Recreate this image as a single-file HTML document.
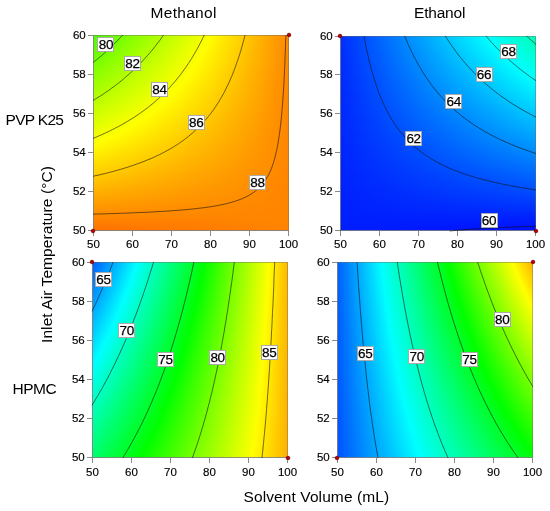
<!DOCTYPE html>
<html><head><meta charset="utf-8"><title>Contour plots</title>
<style>
html,body{margin:0;padding:0;background:#fff}
body{width:550px;height:511px;position:relative;overflow:hidden;font-family:"Liberation Sans",sans-serif;color:#000}
.p{position:absolute;overflow:hidden}
.p i{display:block;height:1px}
.t{position:absolute;font-size:11.5px;line-height:12px;color:#000;white-space:nowrap;-webkit-text-stroke:.15px #000}
.tx{width:30px;text-align:center}
.ty{width:30px;text-align:right}
.l{position:absolute;width:15px;height:13px;background:#fff;border:1px solid #aaa;font-size:13.5px;line-height:14px;text-align:center;color:#000;box-sizing:content-box;letter-spacing:-.3px;-webkit-text-stroke:.25px #000}
.h{position:absolute;white-space:nowrap;color:#000;font-size:15.5px;line-height:20px}
svg{position:absolute;left:0;top:0}
</style></head><body>
<div class="p" style="left:93px;top:35px;width:196px;height:196px"><i style="background:linear-gradient(90deg,#48ff00,#ff0 59.8%,#ff8700)"></i><i style="background:linear-gradient(90deg,#4aff00,#ff0 59.6%,#ff8700)"></i><i style="background:linear-gradient(90deg,#4cff00,#ff0 59.3%,#ff8700)"></i><i style="background:linear-gradient(90deg,#4dff00,#ff0 59.1%,#ff8700)"></i><i style="background:linear-gradient(90deg,#4fff00,#ff0 58.9%,#ff8700)"></i><i style="background:linear-gradient(90deg,#51ff00,#ff0 58.6%,#ff8700)"></i><i style="background:linear-gradient(90deg,#52ff00,#ff0 58.4%,#ff8700)"></i><i style="background:linear-gradient(90deg,#54ff00,#ff0 58.2%,#ff8700)"></i><i style="background:linear-gradient(90deg,#56ff00,#ff0 57.9%,#ff8700)"></i><i style="background:linear-gradient(90deg,#57ff00,#ff0 57.7%,#ff8700)"></i><i style="background:linear-gradient(90deg,#59ff00,#ff0 57.4%,#ff8700)"></i><i style="background:linear-gradient(90deg,#5bff00,#ff0 57.2%,#ff8700)"></i><i style="background:linear-gradient(90deg,#5cff00,#ff0 56.9%,#ff8700)"></i><i style="background:linear-gradient(90deg,#5eff00,#ff0 56.6%,#ff8700)"></i><i style="background:linear-gradient(90deg,#60ff00,#ff0 56.4%,#ff8700)"></i><i style="background:linear-gradient(90deg,#61ff00,#ff0 56.1%,#ff8700)"></i><i style="background:linear-gradient(90deg,#63ff00,#ff0 55.8%,#ff8700)"></i><i style="background:linear-gradient(90deg,#65ff00,#ff0 55.6%,#ff8700)"></i><i style="background:linear-gradient(90deg,#67ff00,#ff0 55.3%,#ff8700)"></i><i style="background:linear-gradient(90deg,#68ff00,#ff0 55.0%,#ff8700)"></i><i style="background:linear-gradient(90deg,#6aff00,#ff0 54.7%,#ff8700)"></i><i style="background:linear-gradient(90deg,#6cff00,#ff0 54.5%,#ff8700)"></i><i style="background:linear-gradient(90deg,#6dff00,#ff0 54.2%,#ff8700)"></i><i style="background:linear-gradient(90deg,#6fff00,#ff0 53.9%,#ff8700)"></i><i style="background:linear-gradient(90deg,#71ff00,#ff0 53.6%,#ff8700)"></i><i style="background:linear-gradient(90deg,#72ff00,#ff0 53.3%,#ff8700)"></i><i style="background:linear-gradient(90deg,#74ff00,#ff0 53.0%,#ff8700)"></i><i style="background:linear-gradient(90deg,#76ff00,#ff0 52.7%,#ff8700)"></i><i style="background:linear-gradient(90deg,#7f0,#ff0 52.4%,#ff8700)"></i><i style="background:linear-gradient(90deg,#79ff00,#ff0 52.0%,#ff8700)"></i><i style="background:linear-gradient(90deg,#7bff00,#ff0 51.7%,#ff8700)"></i><i style="background:linear-gradient(90deg,#7cff00,#ff0 51.4%,#ff8700)"></i><i style="background:linear-gradient(90deg,#7eff00,#ff0 51.1%,#ff8600)"></i><i style="background:linear-gradient(90deg,#80ff00,#ff0 50.7%,#ff8600)"></i><i style="background:linear-gradient(90deg,#81ff00,#ff0 50.4%,#ff8600)"></i><i style="background:linear-gradient(90deg,#83ff00,#ff0 50.1%,#ff8600)"></i><i style="background:linear-gradient(90deg,#85ff00,#ff0 49.7%,#ff8600)"></i><i style="background:linear-gradient(90deg,#87ff00,#ff0 49.4%,#ff8600)"></i><i style="background:linear-gradient(90deg,#8f0,#ff0 49.0%,#ff8600)"></i><i style="background:linear-gradient(90deg,#8aff00,#ff0 48.6%,#ff8600)"></i><i style="background:linear-gradient(90deg,#8cff00,#ff0 48.3%,#ff8600)"></i><i style="background:linear-gradient(90deg,#8dff00,#ff0 47.9%,#ff8600)"></i><i style="background:linear-gradient(90deg,#8fff00,#ff0 47.5%,#ff8600)"></i><i style="background:linear-gradient(90deg,#91ff00,#ff0 47.1%,#ff8600)"></i><i style="background:linear-gradient(90deg,#92ff00,#ff0 46.8%,#ff8600)"></i><i style="background:linear-gradient(90deg,#94ff00,#ff0 46.4%,#ff8600)"></i><i style="background:linear-gradient(90deg,#96ff00,#ff0 46.0%,#ff8600)"></i><i style="background:linear-gradient(90deg,#97ff00,#ff0 45.6%,#ff8600)"></i><i style="background:linear-gradient(90deg,#9f0,#ff0 45.2%,#ff8600)"></i><i style="background:linear-gradient(90deg,#9bff00,#ff0 44.7%,#ff8600)"></i><i style="background:linear-gradient(90deg,#9cff00,#ff0 44.3%,#ff8600)"></i><i style="background:linear-gradient(90deg,#9eff00,#ff0 43.9%,#ff8600)"></i><i style="background:linear-gradient(90deg,#a0ff00,#ff0 43.5%,#ff8600)"></i><i style="background:linear-gradient(90deg,#a1ff00,#ff0 43.0%,#ff8600)"></i><i style="background:linear-gradient(90deg,#a3ff00,#ff0 42.6%,#ff8600)"></i><i style="background:linear-gradient(90deg,#a5ff00,#ff0 42.1%,#ff8600)"></i><i style="background:linear-gradient(90deg,#a7ff00,#ff0 41.6%,#ff8600)"></i><i style="background:linear-gradient(90deg,#a8ff00,#ff0 41.2%,#ff8600)"></i><i style="background:linear-gradient(90deg,#af0,#ff0 40.7%,#ff8600)"></i><i style="background:linear-gradient(90deg,#acff00,#ff0 40.2%,#ff8600)"></i><i style="background:linear-gradient(90deg,#adff00,#ff0 39.7%,#ff8600)"></i><i style="background:linear-gradient(90deg,#afff00,#ff0 39.2%,#ff8600)"></i><i style="background:linear-gradient(90deg,#b1ff00,#ff0 38.7%,#ff8600)"></i><i style="background:linear-gradient(90deg,#b2ff00,#ff0 38.2%,#ff8600)"></i><i style="background:linear-gradient(90deg,#b4ff00,#ff0 37.7%,#ff8600)"></i><i style="background:linear-gradient(90deg,#b6ff00,#ff0 37.1%,#ff8600)"></i><i style="background:linear-gradient(90deg,#b7ff00,#ff0 36.6%,#ff8600)"></i><i style="background:linear-gradient(90deg,#b9ff00,#ff0 36.0%,#ff8600)"></i><i style="background:linear-gradient(90deg,#bf0,#ff0 35.5%,#ff8600)"></i><i style="background:linear-gradient(90deg,#bcff00,#ff0 34.9%,#ff8600)"></i><i style="background:linear-gradient(90deg,#beff00,#ff0 34.3%,#ff8600)"></i><i style="background:linear-gradient(90deg,#c0ff00,#ff0 33.7%,#ff8600)"></i><i style="background:linear-gradient(90deg,#c1ff00,#ff0 33.1%,#ff8600)"></i><i style="background:linear-gradient(90deg,#c3ff00,#ff0 32.5%,#ff8600)"></i><i style="background:linear-gradient(90deg,#c5ff00,#ff0 31.9%,#ff8600)"></i><i style="background:linear-gradient(90deg,#c6ff00,#ff0 31.2%,#ff8600)"></i><i style="background:linear-gradient(90deg,#c8ff00,#ff0 30.6%,#ff8600)"></i><i style="background:linear-gradient(90deg,#caff00,#ff0 29.9%,#ff8600)"></i><i style="background:linear-gradient(90deg,#cf0,#ff0 29.3%,#ff8600)"></i><i style="background:linear-gradient(90deg,#cdff00,#ff0 28.6%,#ff8600)"></i><i style="background:linear-gradient(90deg,#cfff00,#ff0 27.9%,#ff8600)"></i><i style="background:linear-gradient(90deg,#d1ff00,#ff0 27.2%,#ff8600)"></i><i style="background:linear-gradient(90deg,#d2ff00,#ff0 26.4%,#ff8600)"></i><i style="background:linear-gradient(90deg,#d4ff00,#ff0 25.7%,#ff8600)"></i><i style="background:linear-gradient(90deg,#d6ff00,#ff0 24.9%,#ff8500)"></i><i style="background:linear-gradient(90deg,#d7ff00,#ff0 24.2%,#ff8500)"></i><i style="background:linear-gradient(90deg,#d9ff00,#ff0 23.4%,#ff8500)"></i><i style="background:linear-gradient(90deg,#dbff00,#ff0 22.6%,#ff8500)"></i><i style="background:linear-gradient(90deg,#dcff00,#ff0 21.7%,#ff8500)"></i><i style="background:linear-gradient(90deg,#deff00,#ff0 20.9%,#ff8500)"></i><i style="background:linear-gradient(90deg,#e0ff00,#ff0 20.1%,#ff8500)"></i><i style="background:linear-gradient(90deg,#e1ff00,#ff0 19.2%,#ff8500)"></i><i style="background:linear-gradient(90deg,#e3ff00,#ff0 18.3%,#ff8500)"></i><i style="background:linear-gradient(90deg,#e5ff00,#ff0 17.4%,#ff8500)"></i><i style="background:linear-gradient(90deg,#e6ff00,#ff0 16.4%,#ff8500)"></i><i style="background:linear-gradient(90deg,#e8ff00,#ff0 15.5%,#ff8500)"></i><i style="background:linear-gradient(90deg,#eaff00,#ff0 14.5%,#ff8500)"></i><i style="background:linear-gradient(90deg,#ecff00,#ff0 13.5%,#ff8500)"></i><i style="background:linear-gradient(90deg,#edff00,#ff0 12.5%,#ff8500)"></i><i style="background:linear-gradient(90deg,#efff00,#ff0 11.4%,#ff8500)"></i><i style="background:linear-gradient(90deg,#f1ff00,#ff0 10.4%,#ff8500)"></i><i style="background:linear-gradient(90deg,#f2ff00,#ff0 9.3%,#ff8500)"></i><i style="background:linear-gradient(90deg,#f4ff00,#ff0 8.1%,#ff8500)"></i><i style="background:linear-gradient(90deg,#f6ff00,#ff0 7.0%,#ff8500)"></i><i style="background:linear-gradient(90deg,#f7ff00,#ff0 5.8%,#ff8500)"></i><i style="background:linear-gradient(90deg,#f9ff00,#ff0 4.6%,#ff8500)"></i><i style="background:linear-gradient(90deg,#fbff00,#ff0 3.4%,#ff8500)"></i><i style="background:linear-gradient(90deg,#fcff00,#ff0 2.1%,#ff8500)"></i><i style="background:linear-gradient(90deg,#feff00,#ff0 0.8%,#ff8500)"></i><i style="background:linear-gradient(90deg,#fffe00,#ff8500)"></i><i style="background:linear-gradient(90deg,#fffd00,#ff8500)"></i><i style="background:linear-gradient(90deg,#fffb00,#ff8500)"></i><i style="background:linear-gradient(90deg,#fff900,#ff8500)"></i><i style="background:linear-gradient(90deg,#fff800,#ff8500)"></i><i style="background:linear-gradient(90deg,#fff600,#ff8500)"></i><i style="background:linear-gradient(90deg,#fff400,#ff8500)"></i><i style="background:linear-gradient(90deg,#fff300,#ff8500)"></i><i style="background:linear-gradient(90deg,#fff100,#ff8500)"></i><i style="background:linear-gradient(90deg,#fff000,#ff8500)"></i><i style="background:linear-gradient(90deg,#fe0,#ff8500)"></i><i style="background:linear-gradient(90deg,#ffec00,#ff8500)"></i><i style="background:linear-gradient(90deg,#ffeb00,#ff8500)"></i><i style="background:linear-gradient(90deg,#ffe900,#ff8500)"></i><i style="background:linear-gradient(90deg,#ffe700,#ff8500)"></i><i style="background:linear-gradient(90deg,#ffe600,#ff8500)"></i><i style="background:linear-gradient(90deg,#ffe400,#ff8500)"></i><i style="background:linear-gradient(90deg,#ffe200,#ff8500)"></i><i style="background:linear-gradient(90deg,#ffe100,#ff8500)"></i><i style="background:linear-gradient(90deg,#ffdf00,#ff8500)"></i><i style="background:linear-gradient(90deg,#fd0,#ff8500)"></i><i style="background:linear-gradient(90deg,#ffdc00,#ff8500)"></i><i style="background:linear-gradient(90deg,#ffda00,#ff8500)"></i><i style="background:linear-gradient(90deg,#ffd900,#ff8500)"></i><i style="background:linear-gradient(90deg,#ffd700,#ff8500)"></i><i style="background:linear-gradient(90deg,#ffd500,#ff8500)"></i><i style="background:linear-gradient(90deg,#ffd400,#ff8400)"></i><i style="background:linear-gradient(90deg,#ffd200,#ff8400)"></i><i style="background:linear-gradient(90deg,#ffd000,#ff8400)"></i><i style="background:linear-gradient(90deg,#ffcf00,#ff8400)"></i><i style="background:linear-gradient(90deg,#ffcd00,#ff8400)"></i><i style="background:linear-gradient(90deg,#ffcb00,#ff8400)"></i><i style="background:linear-gradient(90deg,#ffca00,#ff8400)"></i><i style="background:linear-gradient(90deg,#ffc800,#ff8400)"></i><i style="background:linear-gradient(90deg,#ffc600,#ff8400)"></i><i style="background:linear-gradient(90deg,#ffc500,#ff8400)"></i><i style="background:linear-gradient(90deg,#ffc300,#ff8400)"></i><i style="background:linear-gradient(90deg,#ffc200,#ff8400)"></i><i style="background:linear-gradient(90deg,#ffc000,#ff8400)"></i><i style="background:linear-gradient(90deg,#ffbe00,#ff8400)"></i><i style="background:linear-gradient(90deg,#ffbd00,#ff8400)"></i><i style="background:linear-gradient(90deg,#fb0,#ff8400)"></i><i style="background:linear-gradient(90deg,#ffb900,#ff8400)"></i><i style="background:linear-gradient(90deg,#ffb800,#ff8400)"></i><i style="background:linear-gradient(90deg,#ffb600,#ff8400)"></i><i style="background:linear-gradient(90deg,#ffb400,#ff8400)"></i><i style="background:linear-gradient(90deg,#ffb300,#ff8400)"></i><i style="background:linear-gradient(90deg,#ffb100,#ff8400)"></i><i style="background:linear-gradient(90deg,#ffaf00,#ff8400)"></i><i style="background:linear-gradient(90deg,#ffae00,#ff8400)"></i><i style="background:linear-gradient(90deg,#ffac00,#ff8400)"></i><i style="background:linear-gradient(90deg,#ffab00,#ff8400)"></i><i style="background:linear-gradient(90deg,#ffa900,#ff8400)"></i><i style="background:linear-gradient(90deg,#ffa700,#ff8400)"></i><i style="background:linear-gradient(90deg,#ffa600,#ff8400)"></i><i style="background:linear-gradient(90deg,#ffa400,#ff8400)"></i><i style="background:linear-gradient(90deg,#ffa200,#ff8400)"></i><i style="background:linear-gradient(90deg,#ffa100,#ff8400)"></i><i style="background:linear-gradient(90deg,#ff9f00,#ff8400)"></i><i style="background:linear-gradient(90deg,#ff9d00,#ff8400)"></i><i style="background:linear-gradient(90deg,#ff9c00,#ff8400)"></i><i style="background:linear-gradient(90deg,#ff9a00,#ff8400)"></i><i style="background:linear-gradient(90deg,#ff9800,#ff8400)"></i><i style="background:linear-gradient(90deg,#ff9700,#ff8400)"></i><i style="background:linear-gradient(90deg,#ff9500,#ff8400)"></i><i style="background:linear-gradient(90deg,#ff9400,#ff8400)"></i><i style="background:linear-gradient(90deg,#ff9200,#ff8400)"></i><i style="background:linear-gradient(90deg,#ff9000,#ff8400)"></i><i style="background:linear-gradient(90deg,#ff8f00,#ff8400)"></i><i style="background:linear-gradient(90deg,#ff8d00,#ff8400)"></i><i style="background:linear-gradient(90deg,#ff8b00,#ff8400)"></i><i style="background:linear-gradient(90deg,#ff8a00,#ff8400)"></i><i style="background:linear-gradient(90deg,#f80,#ff8400)"></i><i style="background:linear-gradient(90deg,#ff8600,#ff8400)"></i><i style="background:linear-gradient(90deg,#ff8500,#ff8400)"></i><i style="background:linear-gradient(90deg,#ff8300,#ff8400)"></i><i style="background:linear-gradient(90deg,#ff8200,#ff8400)"></i><i style="background:linear-gradient(90deg,#ff8000,#ff8400)"></i><i style="background:linear-gradient(90deg,#ff7e00,#ff8300)"></i><i style="background:linear-gradient(90deg,#ff7d00,#ff8300)"></i><i style="background:linear-gradient(90deg,#ff7b00,#ff8300)"></i><i style="background:linear-gradient(90deg,#ff7900,#ff8300)"></i><i style="background:linear-gradient(90deg,#ff7800,#ff8300)"></i><i style="background:linear-gradient(90deg,#ff7600,#ff8300)"></i><i style="background:linear-gradient(90deg,#ff7400,#ff8300)"></i><i style="background:linear-gradient(90deg,#ff7300,#ff8300)"></i><i style="background:linear-gradient(90deg,#ff7100,#ff8300)"></i></div>
<div class="p" style="left:340px;top:36px;width:196px;height:195px"><i style="background:linear-gradient(90deg,#002dff,#0ff 74.7%,#00ffb4)"></i><i style="background:linear-gradient(90deg,#002cff,#0ff 75.1%,#00ffb6)"></i><i style="background:linear-gradient(90deg,#002cff,#0ff 75.6%,#00ffb8)"></i><i style="background:linear-gradient(90deg,#002cff,#0ff 76.0%,#00ffb9)"></i><i style="background:linear-gradient(90deg,#002cff,#0ff 76.5%,#0fb)"></i><i style="background:linear-gradient(90deg,#002cff,#0ff 76.9%,#00ffbd)"></i><i style="background:linear-gradient(90deg,#002cff,#0ff 77.4%,#00ffbe)"></i><i style="background:linear-gradient(90deg,#002cff,#0ff 77.9%,#00ffc0)"></i><i style="background:linear-gradient(90deg,#002cff,#0ff 78.3%,#00ffc2)"></i><i style="background:linear-gradient(90deg,#002cff,#0ff 78.8%,#00ffc3)"></i><i style="background:linear-gradient(90deg,#002cff,#0ff 79.3%,#00ffc5)"></i><i style="background:linear-gradient(90deg,#002cff,#0ff 79.8%,#00ffc7)"></i><i style="background:linear-gradient(90deg,#002cff,#0ff 80.3%,#00ffc9)"></i><i style="background:linear-gradient(90deg,#002cff,#0ff 80.8%,#00ffca)"></i><i style="background:linear-gradient(90deg,#002bff,#0ff 81.3%,#0fc)"></i><i style="background:linear-gradient(90deg,#002bff,#0ff 81.8%,#00ffce)"></i><i style="background:linear-gradient(90deg,#002bff,#0ff 82.3%,#00ffcf)"></i><i style="background:linear-gradient(90deg,#002bff,#0ff 82.8%,#00ffd1)"></i><i style="background:linear-gradient(90deg,#002bff,#0ff 83.4%,#00ffd3)"></i><i style="background:linear-gradient(90deg,#002bff,#0ff 83.9%,#00ffd4)"></i><i style="background:linear-gradient(90deg,#002bff,#0ff 84.4%,#00ffd6)"></i><i style="background:linear-gradient(90deg,#002bff,#0ff 85.0%,#00ffd8)"></i><i style="background:linear-gradient(90deg,#002bff,#0ff 85.5%,#00ffd9)"></i><i style="background:linear-gradient(90deg,#002bff,#0ff 86.1%,#00ffdb)"></i><i style="background:linear-gradient(90deg,#002bff,#0ff 86.7%,#0fd)"></i><i style="background:linear-gradient(90deg,#002bff,#0ff 87.3%,#00ffde)"></i><i style="background:linear-gradient(90deg,#002bff,#0ff 87.8%,#00ffe0)"></i><i style="background:linear-gradient(90deg,#002bff,#0ff 88.4%,#00ffe2)"></i><i style="background:linear-gradient(90deg,#002aff,#0ff 89.0%,#00ffe4)"></i><i style="background:linear-gradient(90deg,#002aff,#0ff 89.6%,#00ffe5)"></i><i style="background:linear-gradient(90deg,#002aff,#0ff 90.3%,#00ffe7)"></i><i style="background:linear-gradient(90deg,#002aff,#0ff 90.9%,#00ffe9)"></i><i style="background:linear-gradient(90deg,#002aff,#0ff 91.5%,#00ffea)"></i><i style="background:linear-gradient(90deg,#002aff,#0ff 92.2%,#00ffec)"></i><i style="background:linear-gradient(90deg,#002aff,#0ff 92.8%,#0fe)"></i><i style="background:linear-gradient(90deg,#002aff,#0ff 93.5%,#00ffef)"></i><i style="background:linear-gradient(90deg,#002aff,#0ff 94.1%,#00fff1)"></i><i style="background:linear-gradient(90deg,#002aff,#0ff 94.8%,#00fff3)"></i><i style="background:linear-gradient(90deg,#002aff,#0ff 95.5%,#00fff4)"></i><i style="background:linear-gradient(90deg,#002aff,#0ff 96.2%,#00fff6)"></i><i style="background:linear-gradient(90deg,#002aff,#0ff 96.9%,#00fff8)"></i><i style="background:linear-gradient(90deg,#0029ff,#0ff 97.6%,#00fffa)"></i><i style="background:linear-gradient(90deg,#0029ff,#0ff 98.3%,#00fffb)"></i><i style="background:linear-gradient(90deg,#0029ff,#0ff 99.1%,#00fffd)"></i><i style="background:linear-gradient(90deg,#0029ff,#0ff 99.8%,#0ff)"></i><i style="background:linear-gradient(90deg,#0029ff,#00feff)"></i><i style="background:linear-gradient(90deg,#0029ff,#00fcff)"></i><i style="background:linear-gradient(90deg,#0029ff,#00fbff)"></i><i style="background:linear-gradient(90deg,#0029ff,#00f9ff)"></i><i style="background:linear-gradient(90deg,#0029ff,#00f7ff)"></i><i style="background:linear-gradient(90deg,#0029ff,#00f6ff)"></i><i style="background:linear-gradient(90deg,#0029ff,#00f4ff)"></i><i style="background:linear-gradient(90deg,#0029ff,#00f3ff)"></i><i style="background:linear-gradient(90deg,#0029ff,#00f1ff)"></i><i style="background:linear-gradient(90deg,#0029ff,#00efff)"></i><i style="background:linear-gradient(90deg,#0028ff,#0ef)"></i><i style="background:linear-gradient(90deg,#0028ff,#00ecff)"></i><i style="background:linear-gradient(90deg,#0028ff,#00eaff)"></i><i style="background:linear-gradient(90deg,#0028ff,#00e9ff)"></i><i style="background:linear-gradient(90deg,#0028ff,#00e7ff)"></i><i style="background:linear-gradient(90deg,#0028ff,#00e6ff)"></i><i style="background:linear-gradient(90deg,#0028ff,#00e4ff)"></i><i style="background:linear-gradient(90deg,#0028ff,#00e2ff)"></i><i style="background:linear-gradient(90deg,#0028ff,#00e1ff)"></i><i style="background:linear-gradient(90deg,#0028ff,#00dfff)"></i><i style="background:linear-gradient(90deg,#0028ff,#00deff)"></i><i style="background:linear-gradient(90deg,#0028ff,#00dcff)"></i><i style="background:linear-gradient(90deg,#0028ff,#00daff)"></i><i style="background:linear-gradient(90deg,#0028ff,#00d9ff)"></i><i style="background:linear-gradient(90deg,#0027ff,#00d7ff)"></i><i style="background:linear-gradient(90deg,#0027ff,#00d6ff)"></i><i style="background:linear-gradient(90deg,#0027ff,#00d4ff)"></i><i style="background:linear-gradient(90deg,#0027ff,#00d2ff)"></i><i style="background:linear-gradient(90deg,#0027ff,#00d1ff)"></i><i style="background:linear-gradient(90deg,#0027ff,#00cfff)"></i><i style="background:linear-gradient(90deg,#0027ff,#00cdff)"></i><i style="background:linear-gradient(90deg,#0027ff,#0cf)"></i><i style="background:linear-gradient(90deg,#0027ff,#00caff)"></i><i style="background:linear-gradient(90deg,#0027ff,#00c9ff)"></i><i style="background:linear-gradient(90deg,#0027ff,#00c7ff)"></i><i style="background:linear-gradient(90deg,#0027ff,#00c5ff)"></i><i style="background:linear-gradient(90deg,#0027ff,#00c4ff)"></i><i style="background:linear-gradient(90deg,#0026ff,#00c2ff)"></i><i style="background:linear-gradient(90deg,#0026ff,#00c1ff)"></i><i style="background:linear-gradient(90deg,#0026ff,#00bfff)"></i><i style="background:linear-gradient(90deg,#0026ff,#00bdff)"></i><i style="background:linear-gradient(90deg,#0026ff,#00bcff)"></i><i style="background:linear-gradient(90deg,#0026ff,#00baff)"></i><i style="background:linear-gradient(90deg,#0026ff,#00b9ff)"></i><i style="background:linear-gradient(90deg,#0026ff,#00b7ff)"></i><i style="background:linear-gradient(90deg,#0026ff,#00b5ff)"></i><i style="background:linear-gradient(90deg,#0026ff,#00b4ff)"></i><i style="background:linear-gradient(90deg,#0026ff,#00b2ff)"></i><i style="background:linear-gradient(90deg,#0026ff,#00b0ff)"></i><i style="background:linear-gradient(90deg,#0026ff,#00afff)"></i><i style="background:linear-gradient(90deg,#0026ff,#00adff)"></i><i style="background:linear-gradient(90deg,#0025ff,#00acff)"></i><i style="background:linear-gradient(90deg,#0025ff,#0af)"></i><i style="background:linear-gradient(90deg,#0025ff,#00a8ff)"></i><i style="background:linear-gradient(90deg,#0025ff,#00a7ff)"></i><i style="background:linear-gradient(90deg,#0025ff,#00a5ff)"></i><i style="background:linear-gradient(90deg,#0025ff,#00a4ff)"></i><i style="background:linear-gradient(90deg,#0025ff,#00a2ff)"></i><i style="background:linear-gradient(90deg,#0025ff,#00a0ff)"></i><i style="background:linear-gradient(90deg,#0025ff,#009fff)"></i><i style="background:linear-gradient(90deg,#0025ff,#009dff)"></i><i style="background:linear-gradient(90deg,#0025ff,#009bff)"></i><i style="background:linear-gradient(90deg,#0025ff,#009aff)"></i><i style="background:linear-gradient(90deg,#0025ff,#0098ff)"></i><i style="background:linear-gradient(90deg,#0024ff,#0097ff)"></i><i style="background:linear-gradient(90deg,#0024ff,#0095ff)"></i><i style="background:linear-gradient(90deg,#0024ff,#0093ff)"></i><i style="background:linear-gradient(90deg,#0024ff,#0092ff)"></i><i style="background:linear-gradient(90deg,#0024ff,#0090ff)"></i><i style="background:linear-gradient(90deg,#0024ff,#008fff)"></i><i style="background:linear-gradient(90deg,#0024ff,#008dff)"></i><i style="background:linear-gradient(90deg,#0024ff,#008bff)"></i><i style="background:linear-gradient(90deg,#0024ff,#008aff)"></i><i style="background:linear-gradient(90deg,#0024ff,#08f)"></i><i style="background:linear-gradient(90deg,#0024ff,#0087ff)"></i><i style="background:linear-gradient(90deg,#0024ff,#0085ff)"></i><i style="background:linear-gradient(90deg,#0024ff,#0083ff)"></i><i style="background:linear-gradient(90deg,#0024ff,#0082ff)"></i><i style="background:linear-gradient(90deg,#0023ff,#0080ff)"></i><i style="background:linear-gradient(90deg,#0023ff,#007eff)"></i><i style="background:linear-gradient(90deg,#0023ff,#007dff)"></i><i style="background:linear-gradient(90deg,#0023ff,#007bff)"></i><i style="background:linear-gradient(90deg,#0023ff,#007aff)"></i><i style="background:linear-gradient(90deg,#0023ff,#0078ff)"></i><i style="background:linear-gradient(90deg,#0023ff,#0076ff)"></i><i style="background:linear-gradient(90deg,#0023ff,#0075ff)"></i><i style="background:linear-gradient(90deg,#0023ff,#0073ff)"></i><i style="background:linear-gradient(90deg,#0023ff,#0072ff)"></i><i style="background:linear-gradient(90deg,#0023ff,#0070ff)"></i><i style="background:linear-gradient(90deg,#0023ff,#006eff)"></i><i style="background:linear-gradient(90deg,#0023ff,#006dff)"></i><i style="background:linear-gradient(90deg,#02f,#006bff)"></i><i style="background:linear-gradient(90deg,#02f,#006aff)"></i><i style="background:linear-gradient(90deg,#02f,#0068ff)"></i><i style="background:linear-gradient(90deg,#02f,#06f)"></i><i style="background:linear-gradient(90deg,#02f,#0065ff)"></i><i style="background:linear-gradient(90deg,#02f,#0063ff)"></i><i style="background:linear-gradient(90deg,#02f,#0061ff)"></i><i style="background:linear-gradient(90deg,#02f,#0060ff)"></i><i style="background:linear-gradient(90deg,#02f,#005eff)"></i><i style="background:linear-gradient(90deg,#02f,#005dff)"></i><i style="background:linear-gradient(90deg,#02f,#005bff)"></i><i style="background:linear-gradient(90deg,#02f,#0059ff)"></i><i style="background:linear-gradient(90deg,#02f,#0058ff)"></i><i style="background:linear-gradient(90deg,#02f,#0056ff)"></i><i style="background:linear-gradient(90deg,#0021ff,#05f)"></i><i style="background:linear-gradient(90deg,#0021ff,#0053ff)"></i><i style="background:linear-gradient(90deg,#0021ff,#0051ff)"></i><i style="background:linear-gradient(90deg,#0021ff,#0050ff)"></i><i style="background:linear-gradient(90deg,#0021ff,#004eff)"></i><i style="background:linear-gradient(90deg,#0021ff,#004dff)"></i><i style="background:linear-gradient(90deg,#0021ff,#004bff)"></i><i style="background:linear-gradient(90deg,#0021ff,#0049ff)"></i><i style="background:linear-gradient(90deg,#0021ff,#0048ff)"></i><i style="background:linear-gradient(90deg,#0021ff,#0046ff)"></i><i style="background:linear-gradient(90deg,#0021ff,#04f)"></i><i style="background:linear-gradient(90deg,#0021ff,#0043ff)"></i><i style="background:linear-gradient(90deg,#0021ff,#0041ff)"></i><i style="background:linear-gradient(90deg,#0021ff,#0040ff)"></i><i style="background:linear-gradient(90deg,#0020ff,#003eff)"></i><i style="background:linear-gradient(90deg,#0020ff,#003cff)"></i><i style="background:linear-gradient(90deg,#0020ff,#003bff)"></i><i style="background:linear-gradient(90deg,#0020ff,#0039ff)"></i><i style="background:linear-gradient(90deg,#0020ff,#0038ff)"></i><i style="background:linear-gradient(90deg,#0020ff,#0036ff)"></i><i style="background:linear-gradient(90deg,#0020ff,#0034ff)"></i><i style="background:linear-gradient(90deg,#0020ff,#03f)"></i><i style="background:linear-gradient(90deg,#0020ff,#0031ff)"></i><i style="background:linear-gradient(90deg,#0020ff,#0030ff)"></i><i style="background:linear-gradient(90deg,#0020ff,#002eff)"></i><i style="background:linear-gradient(90deg,#0020ff,#002cff)"></i><i style="background:linear-gradient(90deg,#0020ff,#002bff)"></i><i style="background:linear-gradient(90deg,#001fff,#0029ff)"></i><i style="background:linear-gradient(90deg,#001fff,#0027ff)"></i><i style="background:linear-gradient(90deg,#001fff,#0026ff)"></i><i style="background:linear-gradient(90deg,#001fff,#0024ff)"></i><i style="background:linear-gradient(90deg,#001fff,#0023ff)"></i><i style="background:linear-gradient(90deg,#001fff,#0021ff)"></i><i style="background:linear-gradient(90deg,#001fff,#001fff)"></i><i style="background:linear-gradient(90deg,#001fff,#001eff)"></i><i style="background:linear-gradient(90deg,#001fff,#001cff)"></i><i style="background:linear-gradient(90deg,#001fff,#001bff)"></i><i style="background:linear-gradient(90deg,#001fff,#0019ff)"></i><i style="background:linear-gradient(90deg,#001fff,#0017ff)"></i><i style="background:linear-gradient(90deg,#001fff,#0016ff)"></i><i style="background:linear-gradient(90deg,#001fff,#0014ff)"></i><i style="background:linear-gradient(90deg,#001eff,#0013ff)"></i><i style="background:linear-gradient(90deg,#001eff,#01f)"></i><i style="background:linear-gradient(90deg,#001eff,#000fff)"></i><i style="background:linear-gradient(90deg,#001eff,#000eff)"></i></div>
<div class="p" style="left:92px;top:262px;width:196px;height:196px"><i style="background:linear-gradient(90deg,#005bff,#0ff 23.1%,#0f0 57.3%,#ff0 90.3%,#ffb600)"></i><i style="background:linear-gradient(90deg,#005dff,#0ff 22.9%,#0f0 57.2%,#ff0 90.3%,#ffb600)"></i><i style="background:linear-gradient(90deg,#005eff,#0ff 22.7%,#0f0 57.1%,#ff0 90.3%,#ffb600)"></i><i style="background:linear-gradient(90deg,#0060ff,#0ff 22.6%,#0f0 57.0%,#ff0 90.2%,#ffb600)"></i><i style="background:linear-gradient(90deg,#0061ff,#0ff 22.4%,#0f0 56.9%,#ff0 90.2%,#ffb600)"></i><i style="background:linear-gradient(90deg,#0063ff,#0ff 22.2%,#0f0 56.8%,#ff0 90.2%,#ffb600)"></i><i style="background:linear-gradient(90deg,#0064ff,#0ff 22.0%,#0f0 56.7%,#ff0 90.1%,#ffb600)"></i><i style="background:linear-gradient(90deg,#06f,#0ff 21.9%,#0f0 56.6%,#ff0 90.1%,#ffb600)"></i><i style="background:linear-gradient(90deg,#0068ff,#0ff 21.7%,#0f0 56.5%,#ff0 90.1%,#ffb600)"></i><i style="background:linear-gradient(90deg,#0069ff,#0ff 21.5%,#0f0 56.4%,#ff0 90.1%,#ffb600)"></i><i style="background:linear-gradient(90deg,#006bff,#0ff 21.3%,#0f0 56.3%,#ff0 90.0%,#ffb600)"></i><i style="background:linear-gradient(90deg,#006cff,#0ff 21.2%,#0f0 56.2%,#ff0 90.0%,#ffb600)"></i><i style="background:linear-gradient(90deg,#006eff,#0ff 21.0%,#0f0 56.1%,#ff0 90.0%,#ffb500)"></i><i style="background:linear-gradient(90deg,#006fff,#0ff 20.8%,#0f0 56.0%,#ff0 90.0%,#ffb500)"></i><i style="background:linear-gradient(90deg,#0071ff,#0ff 20.6%,#0f0 55.9%,#ff0 89.9%,#ffb500)"></i><i style="background:linear-gradient(90deg,#0072ff,#0ff 20.4%,#0f0 55.8%,#ff0 89.9%,#ffb500)"></i><i style="background:linear-gradient(90deg,#0074ff,#0ff 20.3%,#0f0 55.7%,#ff0 89.9%,#ffb500)"></i><i style="background:linear-gradient(90deg,#0076ff,#0ff 20.1%,#0f0 55.6%,#ff0 89.9%,#ffb500)"></i><i style="background:linear-gradient(90deg,#07f,#0ff 19.9%,#0f0 55.5%,#ff0 89.8%,#ffb500)"></i><i style="background:linear-gradient(90deg,#0079ff,#0ff 19.7%,#0f0 55.4%,#ff0 89.8%,#ffb500)"></i><i style="background:linear-gradient(90deg,#007aff,#0ff 19.5%,#0f0 55.3%,#ff0 89.8%,#ffb500)"></i><i style="background:linear-gradient(90deg,#007cff,#0ff 19.3%,#0f0 55.2%,#ff0 89.7%,#ffb500)"></i><i style="background:linear-gradient(90deg,#007dff,#0ff 19.2%,#0f0 55.1%,#ff0 89.7%,#ffb500)"></i><i style="background:linear-gradient(90deg,#007fff,#0ff 19.0%,#0f0 55.0%,#ff0 89.7%,#ffb500)"></i><i style="background:linear-gradient(90deg,#0080ff,#0ff 18.8%,#0f0 54.9%,#ff0 89.7%,#ffb500)"></i><i style="background:linear-gradient(90deg,#0082ff,#0ff 18.6%,#0f0 54.8%,#ff0 89.6%,#ffb500)"></i><i style="background:linear-gradient(90deg,#0084ff,#0ff 18.4%,#0f0 54.7%,#ff0 89.6%,#ffb500)"></i><i style="background:linear-gradient(90deg,#0085ff,#0ff 18.2%,#0f0 54.5%,#ff0 89.6%,#ffb500)"></i><i style="background:linear-gradient(90deg,#0087ff,#0ff 18.0%,#0f0 54.4%,#ff0 89.5%,#ffb500)"></i><i style="background:linear-gradient(90deg,#08f,#0ff 17.8%,#0f0 54.3%,#ff0 89.5%,#ffb500)"></i><i style="background:linear-gradient(90deg,#008aff,#0ff 17.6%,#0f0 54.2%,#ff0 89.5%,#ffb500)"></i><i style="background:linear-gradient(90deg,#008bff,#0ff 17.4%,#0f0 54.1%,#ff0 89.5%,#ffb500)"></i><i style="background:linear-gradient(90deg,#008dff,#0ff 17.2%,#0f0 54.0%,#ff0 89.4%,#ffb500)"></i><i style="background:linear-gradient(90deg,#008eff,#0ff 17.0%,#0f0 53.9%,#ff0 89.4%,#ffb500)"></i><i style="background:linear-gradient(90deg,#0090ff,#0ff 16.8%,#0f0 53.8%,#ff0 89.4%,#ffb500)"></i><i style="background:linear-gradient(90deg,#0092ff,#0ff 16.6%,#0f0 53.7%,#ff0 89.3%,#ffb500)"></i><i style="background:linear-gradient(90deg,#0093ff,#0ff 16.4%,#0f0 53.6%,#ff0 89.3%,#ffb500)"></i><i style="background:linear-gradient(90deg,#0095ff,#0ff 16.2%,#0f0 53.4%,#ff0 89.3%,#ffb500)"></i><i style="background:linear-gradient(90deg,#0096ff,#0ff 16.0%,#0f0 53.3%,#ff0 89.3%,#ffb500)"></i><i style="background:linear-gradient(90deg,#0098ff,#0ff 15.8%,#0f0 53.2%,#ff0 89.2%,#ffb500)"></i><i style="background:linear-gradient(90deg,#09f,#0ff 15.6%,#0f0 53.1%,#ff0 89.2%,#ffb500)"></i><i style="background:linear-gradient(90deg,#009bff,#0ff 15.4%,#0f0 53.0%,#ff0 89.2%,#ffb400)"></i><i style="background:linear-gradient(90deg,#009dff,#0ff 15.2%,#0f0 52.9%,#ff0 89.1%,#ffb400)"></i><i style="background:linear-gradient(90deg,#009eff,#0ff 15.0%,#0f0 52.7%,#ff0 89.1%,#ffb400)"></i><i style="background:linear-gradient(90deg,#00a0ff,#0ff 14.8%,#0f0 52.6%,#ff0 89.1%,#ffb400)"></i><i style="background:linear-gradient(90deg,#00a1ff,#0ff 14.6%,#0f0 52.5%,#ff0 89.0%,#ffb400)"></i><i style="background:linear-gradient(90deg,#00a3ff,#0ff 14.4%,#0f0 52.4%,#ff0 89.0%,#ffb400)"></i><i style="background:linear-gradient(90deg,#00a4ff,#0ff 14.2%,#0f0 52.3%,#ff0 89.0%,#ffb400)"></i><i style="background:linear-gradient(90deg,#00a6ff,#0ff 14.0%,#0f0 52.2%,#ff0 88.9%,#ffb400)"></i><i style="background:linear-gradient(90deg,#00a7ff,#0ff 13.8%,#0f0 52.0%,#ff0 88.9%,#ffb400)"></i><i style="background:linear-gradient(90deg,#00a9ff,#0ff 13.6%,#0f0 51.9%,#ff0 88.9%,#ffb400)"></i><i style="background:linear-gradient(90deg,#00abff,#0ff 13.3%,#0f0 51.8%,#ff0 88.8%,#ffb400)"></i><i style="background:linear-gradient(90deg,#00acff,#0ff 13.1%,#0f0 51.7%,#ff0 88.8%,#ffb400)"></i><i style="background:linear-gradient(90deg,#00aeff,#0ff 12.9%,#0f0 51.5%,#ff0 88.8%,#ffb400)"></i><i style="background:linear-gradient(90deg,#00afff,#0ff 12.7%,#0f0 51.4%,#ff0 88.8%,#ffb400)"></i><i style="background:linear-gradient(90deg,#00b1ff,#0ff 12.5%,#0f0 51.3%,#ff0 88.7%,#ffb400)"></i><i style="background:linear-gradient(90deg,#00b2ff,#0ff 12.3%,#0f0 51.2%,#ff0 88.7%,#ffb400)"></i><i style="background:linear-gradient(90deg,#00b4ff,#0ff 12.0%,#0f0 51.1%,#ff0 88.7%,#ffb400)"></i><i style="background:linear-gradient(90deg,#00b5ff,#0ff 11.8%,#0f0 50.9%,#ff0 88.6%,#ffb400)"></i><i style="background:linear-gradient(90deg,#00b7ff,#0ff 11.6%,#0f0 50.8%,#ff0 88.6%,#ffb400)"></i><i style="background:linear-gradient(90deg,#00b9ff,#0ff 11.4%,#0f0 50.7%,#ff0 88.6%,#ffb400)"></i><i style="background:linear-gradient(90deg,#00baff,#0ff 11.2%,#0f0 50.5%,#ff0 88.5%,#ffb400)"></i><i style="background:linear-gradient(90deg,#00bcff,#0ff 10.9%,#0f0 50.4%,#ff0 88.5%,#ffb400)"></i><i style="background:linear-gradient(90deg,#00bdff,#0ff 10.7%,#0f0 50.3%,#ff0 88.5%,#ffb400)"></i><i style="background:linear-gradient(90deg,#00bfff,#0ff 10.5%,#0f0 50.2%,#ff0 88.4%,#ffb400)"></i><i style="background:linear-gradient(90deg,#00c0ff,#0ff 10.2%,#0f0 50.0%,#ff0 88.4%,#ffb400)"></i><i style="background:linear-gradient(90deg,#00c2ff,#0ff 10.0%,#0f0 49.9%,#ff0 88.3%,#ffb400)"></i><i style="background:linear-gradient(90deg,#00c3ff,#0ff 9.8%,#0f0 49.8%,#ff0 88.3%,#ffb400)"></i><i style="background:linear-gradient(90deg,#00c5ff,#0ff 9.6%,#0f0 49.6%,#ff0 88.3%,#ffb400)"></i><i style="background:linear-gradient(90deg,#00c7ff,#0ff 9.3%,#0f0 49.5%,#ff0 88.2%,#ffb300)"></i><i style="background:linear-gradient(90deg,#00c8ff,#0ff 9.1%,#0f0 49.4%,#ff0 88.2%,#ffb300)"></i><i style="background:linear-gradient(90deg,#00caff,#0ff 8.9%,#0f0 49.2%,#ff0 88.2%,#ffb300)"></i><i style="background:linear-gradient(90deg,#00cbff,#0ff 8.6%,#0f0 49.1%,#ff0 88.1%,#ffb300)"></i><i style="background:linear-gradient(90deg,#00cdff,#0ff 8.4%,#0f0 49.0%,#ff0 88.1%,#ffb300)"></i><i style="background:linear-gradient(90deg,#00ceff,#0ff 8.1%,#0f0 48.8%,#ff0 88.1%,#ffb300)"></i><i style="background:linear-gradient(90deg,#00d0ff,#0ff 7.9%,#0f0 48.7%,#ff0 88.0%,#ffb300)"></i><i style="background:linear-gradient(90deg,#00d1ff,#0ff 7.7%,#0f0 48.6%,#ff0 88.0%,#ffb300)"></i><i style="background:linear-gradient(90deg,#00d3ff,#0ff 7.4%,#0f0 48.4%,#ff0 88.0%,#ffb300)"></i><i style="background:linear-gradient(90deg,#00d5ff,#0ff 7.2%,#0f0 48.3%,#ff0 87.9%,#ffb300)"></i><i style="background:linear-gradient(90deg,#00d6ff,#0ff 6.9%,#0f0 48.1%,#ff0 87.9%,#ffb300)"></i><i style="background:linear-gradient(90deg,#00d8ff,#0ff 6.7%,#0f0 48.0%,#ff0 87.8%,#ffb300)"></i><i style="background:linear-gradient(90deg,#00d9ff,#0ff 6.4%,#0f0 47.9%,#ff0 87.8%,#ffb300)"></i><i style="background:linear-gradient(90deg,#00dbff,#0ff 6.2%,#0f0 47.7%,#ff0 87.8%,#ffb300)"></i><i style="background:linear-gradient(90deg,#00dcff,#0ff 5.9%,#0f0 47.6%,#ff0 87.7%,#ffb300)"></i><i style="background:linear-gradient(90deg,#00deff,#0ff 5.7%,#0f0 47.4%,#ff0 87.7%,#ffb300)"></i><i style="background:linear-gradient(90deg,#00e0ff,#0ff 5.4%,#0f0 47.3%,#ff0 87.7%,#ffb300)"></i><i style="background:linear-gradient(90deg,#00e1ff,#0ff 5.2%,#0f0 47.2%,#ff0 87.6%,#ffb300)"></i><i style="background:linear-gradient(90deg,#00e3ff,#0ff 4.9%,#0f0 47.0%,#ff0 87.6%,#ffb300)"></i><i style="background:linear-gradient(90deg,#00e4ff,#0ff 4.7%,#0f0 46.9%,#ff0 87.5%,#ffb300)"></i><i style="background:linear-gradient(90deg,#00e6ff,#0ff 4.4%,#0f0 46.7%,#ff0 87.5%,#ffb300)"></i><i style="background:linear-gradient(90deg,#00e7ff,#0ff 4.1%,#0f0 46.6%,#ff0 87.5%,#ffb300)"></i><i style="background:linear-gradient(90deg,#00e9ff,#0ff 3.9%,#0f0 46.4%,#ff0 87.4%,#ffb300)"></i><i style="background:linear-gradient(90deg,#00eaff,#0ff 3.6%,#0f0 46.3%,#ff0 87.4%,#ffb300)"></i><i style="background:linear-gradient(90deg,#00ecff,#0ff 3.3%,#0f0 46.1%,#ff0 87.3%,#ffb300)"></i><i style="background:linear-gradient(90deg,#0ef,#0ff 3.1%,#0f0 46.0%,#ff0 87.3%,#ffb300)"></i><i style="background:linear-gradient(90deg,#00efff,#0ff 2.8%,#0f0 45.8%,#ff0 87.3%,#ffb300)"></i><i style="background:linear-gradient(90deg,#00f1ff,#0ff 2.5%,#0f0 45.7%,#ff0 87.2%,#ffb300)"></i><i style="background:linear-gradient(90deg,#00f2ff,#0ff 2.3%,#0f0 45.5%,#ff0 87.2%,#ffb300)"></i><i style="background:linear-gradient(90deg,#00f4ff,#0ff 2.0%,#0f0 45.4%,#ff0 87.1%,#ffb200)"></i><i style="background:linear-gradient(90deg,#00f5ff,#0ff 1.7%,#0f0 45.2%,#ff0 87.1%,#ffb200)"></i><i style="background:linear-gradient(90deg,#00f7ff,#0ff 1.5%,#0f0 45.0%,#ff0 87.1%,#ffb200)"></i><i style="background:linear-gradient(90deg,#00f8ff,#0ff 1.2%,#0f0 44.9%,#ff0 87.0%,#ffb200)"></i><i style="background:linear-gradient(90deg,#00faff,#0ff 0.9%,#0f0 44.7%,#ff0 87.0%,#ffb200)"></i><i style="background:linear-gradient(90deg,#00fcff,#0ff 0.6%,#0f0 44.6%,#ff0 86.9%,#ffb200)"></i><i style="background:linear-gradient(90deg,#00fdff,#0ff 0.3%,#0f0 44.4%,#ff0 86.9%,#ffb200)"></i><i style="background:linear-gradient(90deg,#0ff,#0ff 0.1%,#0f0 44.3%,#ff0 86.9%,#ffb200)"></i><i style="background:linear-gradient(90deg,#00fffe,#0f0 44.1%,#ff0 86.8%,#ffb200)"></i><i style="background:linear-gradient(90deg,#00fffc,#0f0 43.9%,#ff0 86.8%,#ffb200)"></i><i style="background:linear-gradient(90deg,#00fffa,#0f0 43.8%,#ff0 86.7%,#ffb200)"></i><i style="background:linear-gradient(90deg,#00fff9,#0f0 43.6%,#ff0 86.7%,#ffb200)"></i><i style="background:linear-gradient(90deg,#00fff7,#0f0 43.4%,#ff0 86.6%,#ffb200)"></i><i style="background:linear-gradient(90deg,#00fff6,#0f0 43.3%,#ff0 86.6%,#ffb200)"></i><i style="background:linear-gradient(90deg,#00fff4,#0f0 43.1%,#ff0 86.6%,#ffb200)"></i><i style="background:linear-gradient(90deg,#00fff2,#0f0 42.9%,#ff0 86.5%,#ffb200)"></i><i style="background:linear-gradient(90deg,#00fff1,#0f0 42.8%,#ff0 86.5%,#ffb200)"></i><i style="background:linear-gradient(90deg,#00ffef,#0f0 42.6%,#ff0 86.4%,#ffb200)"></i><i style="background:linear-gradient(90deg,#00ffed,#0f0 42.4%,#ff0 86.4%,#ffb200)"></i><i style="background:linear-gradient(90deg,#00ffec,#0f0 42.3%,#ff0 86.3%,#ffb200)"></i><i style="background:linear-gradient(90deg,#00ffea,#0f0 42.1%,#ff0 86.3%,#ffb200)"></i><i style="background:linear-gradient(90deg,#00ffe8,#0f0 41.9%,#ff0 86.2%,#ffb200)"></i><i style="background:linear-gradient(90deg,#00ffe7,#0f0 41.7%,#ff0 86.2%,#ffb200)"></i><i style="background:linear-gradient(90deg,#00ffe5,#0f0 41.6%,#ff0 86.1%,#ffb200)"></i><i style="background:linear-gradient(90deg,#00ffe4,#0f0 41.4%,#ff0 86.1%,#ffb200)"></i><i style="background:linear-gradient(90deg,#00ffe2,#0f0 41.2%,#ff0 86.1%,#ffb200)"></i><i style="background:linear-gradient(90deg,#00ffe0,#0f0 41.0%,#ff0 86.0%,#ffb200)"></i><i style="background:linear-gradient(90deg,#00ffdf,#0f0 40.9%,#ff0 86.0%,#ffb200)"></i><i style="background:linear-gradient(90deg,#0fd,#0f0 40.7%,#ff0 85.9%,#ffb200)"></i><i style="background:linear-gradient(90deg,#00ffdb,#0f0 40.5%,#ff0 85.9%,#ffb100)"></i><i style="background:linear-gradient(90deg,#00ffda,#0f0 40.3%,#ff0 85.8%,#ffb100)"></i><i style="background:linear-gradient(90deg,#00ffd8,#0f0 40.1%,#ff0 85.8%,#ffb100)"></i><i style="background:linear-gradient(90deg,#00ffd7,#0f0 39.9%,#ff0 85.7%,#ffb100)"></i><i style="background:linear-gradient(90deg,#00ffd5,#0f0 39.8%,#ff0 85.7%,#ffb100)"></i><i style="background:linear-gradient(90deg,#00ffd3,#0f0 39.6%,#ff0 85.6%,#ffb100)"></i><i style="background:linear-gradient(90deg,#00ffd2,#0f0 39.4%,#ff0 85.6%,#ffb100)"></i><i style="background:linear-gradient(90deg,#00ffd0,#0f0 39.2%,#ff0 85.5%,#ffb100)"></i><i style="background:linear-gradient(90deg,#00ffce,#0f0 39.0%,#ff0 85.5%,#ffb100)"></i><i style="background:linear-gradient(90deg,#00ffcd,#0f0 38.8%,#ff0 85.4%,#ffb100)"></i><i style="background:linear-gradient(90deg,#00ffcb,#0f0 38.6%,#ff0 85.4%,#ffb100)"></i><i style="background:linear-gradient(90deg,#00ffc9,#0f0 38.4%,#ff0 85.3%,#ffb100)"></i><i style="background:linear-gradient(90deg,#00ffc8,#0f0 38.2%,#ff0 85.3%,#ffb100)"></i><i style="background:linear-gradient(90deg,#00ffc6,#0f0 38.0%,#ff0 85.2%,#ffb100)"></i><i style="background:linear-gradient(90deg,#00ffc5,#0f0 37.8%,#ff0 85.2%,#ffb100)"></i><i style="background:linear-gradient(90deg,#00ffc3,#0f0 37.6%,#ff0 85.1%,#ffb100)"></i><i style="background:linear-gradient(90deg,#00ffc1,#0f0 37.4%,#ff0 85.1%,#ffb100)"></i><i style="background:linear-gradient(90deg,#00ffc0,#0f0 37.2%,#ff0 85.0%,#ffb100)"></i><i style="background:linear-gradient(90deg,#00ffbe,#0f0 37.0%,#ff0 84.9%,#ffb100)"></i><i style="background:linear-gradient(90deg,#00ffbc,#0f0 36.8%,#ff0 84.9%,#ffb100)"></i><i style="background:linear-gradient(90deg,#0fb,#0f0 36.6%,#ff0 84.8%,#ffb100)"></i><i style="background:linear-gradient(90deg,#00ffb9,#0f0 36.4%,#ff0 84.8%,#ffb100)"></i><i style="background:linear-gradient(90deg,#00ffb7,#0f0 36.2%,#ff0 84.7%,#ffb100)"></i><i style="background:linear-gradient(90deg,#00ffb6,#0f0 36.0%,#ff0 84.7%,#ffb100)"></i><i style="background:linear-gradient(90deg,#00ffb4,#0f0 35.8%,#ff0 84.6%,#ffb100)"></i><i style="background:linear-gradient(90deg,#00ffb3,#0f0 35.6%,#ff0 84.6%,#ffb100)"></i><i style="background:linear-gradient(90deg,#00ffb1,#0f0 35.4%,#ff0 84.5%,#ffb100)"></i><i style="background:linear-gradient(90deg,#00ffaf,#0f0 35.2%,#ff0 84.5%,#ffb100)"></i><i style="background:linear-gradient(90deg,#00ffae,#0f0 34.9%,#ff0 84.4%,#ffb000)"></i><i style="background:linear-gradient(90deg,#00ffac,#0f0 34.7%,#ff0 84.3%,#ffb000)"></i><i style="background:linear-gradient(90deg,#0fa,#0f0 34.5%,#ff0 84.3%,#ffb000)"></i><i style="background:linear-gradient(90deg,#00ffa9,#0f0 34.3%,#ff0 84.2%,#ffb000)"></i><i style="background:linear-gradient(90deg,#00ffa7,#0f0 34.1%,#ff0 84.2%,#ffb000)"></i><i style="background:linear-gradient(90deg,#00ffa6,#0f0 33.8%,#ff0 84.1%,#ffb000)"></i><i style="background:linear-gradient(90deg,#00ffa4,#0f0 33.6%,#ff0 84.0%,#ffb000)"></i><i style="background:linear-gradient(90deg,#00ffa2,#0f0 33.4%,#ff0 84.0%,#ffb000)"></i><i style="background:linear-gradient(90deg,#00ffa1,#0f0 33.2%,#ff0 83.9%,#ffb000)"></i><i style="background:linear-gradient(90deg,#00ff9f,#0f0 32.9%,#ff0 83.9%,#ffb000)"></i><i style="background:linear-gradient(90deg,#00ff9d,#0f0 32.7%,#ff0 83.8%,#ffb000)"></i><i style="background:linear-gradient(90deg,#00ff9c,#0f0 32.5%,#ff0 83.7%,#ffb000)"></i><i style="background:linear-gradient(90deg,#00ff9a,#0f0 32.2%,#ff0 83.7%,#ffb000)"></i><i style="background:linear-gradient(90deg,#00ff98,#0f0 32.0%,#ff0 83.6%,#ffb000)"></i><i style="background:linear-gradient(90deg,#00ff97,#0f0 31.8%,#ff0 83.6%,#ffb000)"></i><i style="background:linear-gradient(90deg,#00ff95,#0f0 31.5%,#ff0 83.5%,#ffb000)"></i><i style="background:linear-gradient(90deg,#00ff94,#0f0 31.3%,#ff0 83.4%,#ffb000)"></i><i style="background:linear-gradient(90deg,#00ff92,#0f0 31.1%,#ff0 83.4%,#ffb000)"></i><i style="background:linear-gradient(90deg,#00ff90,#0f0 30.8%,#ff0 83.3%,#ffb000)"></i><i style="background:linear-gradient(90deg,#00ff8f,#0f0 30.6%,#ff0 83.2%,#ffb000)"></i><i style="background:linear-gradient(90deg,#00ff8d,#0f0 30.3%,#ff0 83.2%,#ffb000)"></i><i style="background:linear-gradient(90deg,#00ff8b,#0f0 30.1%,#ff0 83.1%,#ffb000)"></i><i style="background:linear-gradient(90deg,#00ff8a,#0f0 29.8%,#ff0 83.0%,#ffb000)"></i><i style="background:linear-gradient(90deg,#0f8,#0f0 29.6%,#ff0 83.0%,#ffb000)"></i><i style="background:linear-gradient(90deg,#00ff86,#0f0 29.3%,#ff0 82.9%,#ffb000)"></i><i style="background:linear-gradient(90deg,#00ff85,#0f0 29.1%,#ff0 82.8%,#ffb000)"></i><i style="background:linear-gradient(90deg,#00ff83,#0f0 28.8%,#ff0 82.8%,#ffb000)"></i><i style="background:linear-gradient(90deg,#00ff82,#0f0 28.6%,#ff0 82.7%,#ffb000)"></i><i style="background:linear-gradient(90deg,#00ff80,#0f0 28.3%,#ff0 82.6%,#ffb000)"></i><i style="background:linear-gradient(90deg,#00ff7e,#0f0 28.0%,#ff0 82.6%,#ffaf00)"></i><i style="background:linear-gradient(90deg,#00ff7d,#0f0 27.8%,#ff0 82.5%,#ffaf00)"></i><i style="background:linear-gradient(90deg,#00ff7b,#0f0 27.5%,#ff0 82.4%,#ffaf00)"></i><i style="background:linear-gradient(90deg,#00ff79,#0f0 27.2%,#ff0 82.4%,#ffaf00)"></i><i style="background:linear-gradient(90deg,#00ff78,#0f0 27.0%,#ff0 82.3%,#ffaf00)"></i><i style="background:linear-gradient(90deg,#00ff76,#0f0 26.7%,#ff0 82.2%,#ffaf00)"></i><i style="background:linear-gradient(90deg,#00ff75,#0f0 26.4%,#ff0 82.1%,#ffaf00)"></i><i style="background:linear-gradient(90deg,#00ff73,#0f0 26.1%,#ff0 82.1%,#ffaf00)"></i><i style="background:linear-gradient(90deg,#00ff71,#0f0 25.9%,#ff0 82.0%,#ffaf00)"></i><i style="background:linear-gradient(90deg,#00ff70,#0f0 25.6%,#ff0 81.9%,#ffaf00)"></i><i style="background:linear-gradient(90deg,#00ff6e,#0f0 25.3%,#ff0 81.8%,#ffaf00)"></i><i style="background:linear-gradient(90deg,#00ff6c,#0f0 25.0%,#ff0 81.8%,#ffaf00)"></i></div>
<div class="p" style="left:337px;top:262px;width:196px;height:196px"><i style="background:linear-gradient(90deg,#005eff,#0ff 22.6%,#0f0 56.6%,#ff0 89.4%,#ffaf00)"></i><i style="background:linear-gradient(90deg,#005eff,#0ff 22.6%,#0f0 56.8%,#ff0 89.7%,#ffb100)"></i><i style="background:linear-gradient(90deg,#005eff,#0ff 22.7%,#0f0 56.9%,#ff0 89.9%,#ffb200)"></i><i style="background:linear-gradient(90deg,#005eff,#0ff 22.7%,#0f0 57.0%,#ff0 90.1%,#ffb400)"></i><i style="background:linear-gradient(90deg,#005eff,#0ff 22.8%,#0f0 57.2%,#ff0 90.3%,#ffb600)"></i><i style="background:linear-gradient(90deg,#005dff,#0ff 22.9%,#0f0 57.3%,#ff0 90.5%,#ffb800)"></i><i style="background:linear-gradient(90deg,#005dff,#0ff 22.9%,#0f0 57.4%,#ff0 90.7%,#ffb900)"></i><i style="background:linear-gradient(90deg,#005dff,#0ff 23.0%,#0f0 57.6%,#ff0 90.9%,#fb0)"></i><i style="background:linear-gradient(90deg,#005dff,#0ff 23.0%,#0f0 57.7%,#ff0 91.1%,#ffbd00)"></i><i style="background:linear-gradient(90deg,#005dff,#0ff 23.1%,#0f0 57.8%,#ff0 91.3%,#ffbe00)"></i><i style="background:linear-gradient(90deg,#005dff,#0ff 23.2%,#0f0 58.0%,#ff0 91.5%,#ffc000)"></i><i style="background:linear-gradient(90deg,#005dff,#0ff 23.2%,#0f0 58.1%,#ff0 91.7%,#ffc200)"></i><i style="background:linear-gradient(90deg,#005dff,#0ff 23.3%,#0f0 58.3%,#ff0 92.0%,#ffc400)"></i><i style="background:linear-gradient(90deg,#005dff,#0ff 23.3%,#0f0 58.4%,#ff0 92.2%,#ffc500)"></i><i style="background:linear-gradient(90deg,#005dff,#0ff 23.4%,#0f0 58.5%,#ff0 92.4%,#ffc700)"></i><i style="background:linear-gradient(90deg,#005dff,#0ff 23.5%,#0f0 58.7%,#ff0 92.6%,#ffc900)"></i><i style="background:linear-gradient(90deg,#005dff,#0ff 23.5%,#0f0 58.8%,#ff0 92.8%,#ffcb00)"></i><i style="background:linear-gradient(90deg,#005dff,#0ff 23.6%,#0f0 59.0%,#ff0 93.0%,#fc0)"></i><i style="background:linear-gradient(90deg,#005dff,#0ff 23.7%,#0f0 59.1%,#ff0 93.3%,#ffce00)"></i><i style="background:linear-gradient(90deg,#005dff,#0ff 23.7%,#0f0 59.2%,#ff0 93.5%,#ffd000)"></i><i style="background:linear-gradient(90deg,#005cff,#0ff 23.8%,#0f0 59.4%,#ff0 93.7%,#ffd100)"></i><i style="background:linear-gradient(90deg,#005cff,#0ff 23.9%,#0f0 59.5%,#ff0 93.9%,#ffd300)"></i><i style="background:linear-gradient(90deg,#005cff,#0ff 23.9%,#0f0 59.7%,#ff0 94.2%,#ffd500)"></i><i style="background:linear-gradient(90deg,#005cff,#0ff 24.0%,#0f0 59.8%,#ff0 94.4%,#ffd700)"></i><i style="background:linear-gradient(90deg,#005cff,#0ff 24.0%,#0f0 60.0%,#ff0 94.6%,#ffd800)"></i><i style="background:linear-gradient(90deg,#005cff,#0ff 24.1%,#0f0 60.1%,#ff0 94.8%,#ffda00)"></i><i style="background:linear-gradient(90deg,#005cff,#0ff 24.2%,#0f0 60.3%,#ff0 95.1%,#ffdc00)"></i><i style="background:linear-gradient(90deg,#005cff,#0ff 24.2%,#0f0 60.4%,#ff0 95.3%,#fd0)"></i><i style="background:linear-gradient(90deg,#005cff,#0ff 24.3%,#0f0 60.6%,#ff0 95.5%,#ffdf00)"></i><i style="background:linear-gradient(90deg,#005cff,#0ff 24.4%,#0f0 60.7%,#ff0 95.8%,#ffe100)"></i><i style="background:linear-gradient(90deg,#005cff,#0ff 24.4%,#0f0 60.9%,#ff0 96.0%,#ffe300)"></i><i style="background:linear-gradient(90deg,#005cff,#0ff 24.5%,#0f0 61.0%,#ff0 96.2%,#ffe400)"></i><i style="background:linear-gradient(90deg,#005cff,#0ff 24.6%,#0f0 61.2%,#ff0 96.5%,#ffe600)"></i><i style="background:linear-gradient(90deg,#005cff,#0ff 24.6%,#0f0 61.3%,#ff0 96.7%,#ffe800)"></i><i style="background:linear-gradient(90deg,#005cff,#0ff 24.7%,#0f0 61.5%,#ff0 96.9%,#ffe900)"></i><i style="background:linear-gradient(90deg,#005cff,#0ff 24.8%,#0f0 61.6%,#ff0 97.2%,#ffeb00)"></i><i style="background:linear-gradient(90deg,#005bff,#0ff 24.8%,#0f0 61.8%,#ff0 97.4%,#ffed00)"></i><i style="background:linear-gradient(90deg,#005bff,#0ff 24.9%,#0f0 62.0%,#ff0 97.7%,#ffef00)"></i><i style="background:linear-gradient(90deg,#005bff,#0ff 25.0%,#0f0 62.1%,#ff0 97.9%,#fff000)"></i><i style="background:linear-gradient(90deg,#005bff,#0ff 25.0%,#0f0 62.3%,#ff0 98.1%,#fff200)"></i><i style="background:linear-gradient(90deg,#005bff,#0ff 25.1%,#0f0 62.4%,#ff0 98.4%,#fff400)"></i><i style="background:linear-gradient(90deg,#005bff,#0ff 25.2%,#0f0 62.6%,#ff0 98.6%,#fff600)"></i><i style="background:linear-gradient(90deg,#005bff,#0ff 25.3%,#0f0 62.7%,#ff0 98.9%,#fff700)"></i><i style="background:linear-gradient(90deg,#005bff,#0ff 25.3%,#0f0 62.9%,#ff0 99.1%,#fff900)"></i><i style="background:linear-gradient(90deg,#005bff,#0ff 25.4%,#0f0 63.1%,#ff0 99.4%,#fffb00)"></i><i style="background:linear-gradient(90deg,#005bff,#0ff 25.5%,#0f0 63.2%,#ff0 99.6%,#fffc00)"></i><i style="background:linear-gradient(90deg,#005bff,#0ff 25.5%,#0f0 63.4%,#ff0 99.9%,#fffe00)"></i><i style="background:linear-gradient(90deg,#005bff,#0ff 25.6%,#0f0 63.6%,#feff00)"></i><i style="background:linear-gradient(90deg,#005bff,#0ff 25.7%,#0f0 63.7%,#fcff00)"></i><i style="background:linear-gradient(90deg,#005bff,#0ff 25.8%,#0f0 63.9%,#fbff00)"></i><i style="background:linear-gradient(90deg,#005bff,#0ff 25.8%,#0f0 64.1%,#f9ff00)"></i><i style="background:linear-gradient(90deg,#005aff,#0ff 25.9%,#0f0 64.2%,#f7ff00)"></i><i style="background:linear-gradient(90deg,#005aff,#0ff 26.0%,#0f0 64.4%,#f5ff00)"></i><i style="background:linear-gradient(90deg,#005aff,#0ff 26.1%,#0f0 64.6%,#f4ff00)"></i><i style="background:linear-gradient(90deg,#005aff,#0ff 26.1%,#0f0 64.7%,#f2ff00)"></i><i style="background:linear-gradient(90deg,#005aff,#0ff 26.2%,#0f0 64.9%,#f0ff00)"></i><i style="background:linear-gradient(90deg,#005aff,#0ff 26.3%,#0f0 65.1%,#ef0)"></i><i style="background:linear-gradient(90deg,#005aff,#0ff 26.4%,#0f0 65.2%,#edff00)"></i><i style="background:linear-gradient(90deg,#005aff,#0ff 26.4%,#0f0 65.4%,#ebff00)"></i><i style="background:linear-gradient(90deg,#005aff,#0ff 26.5%,#0f0 65.6%,#e9ff00)"></i><i style="background:linear-gradient(90deg,#005aff,#0ff 26.6%,#0f0 65.8%,#e7ff00)"></i><i style="background:linear-gradient(90deg,#005aff,#0ff 26.7%,#0f0 65.9%,#e5ff00)"></i><i style="background:linear-gradient(90deg,#005aff,#0ff 26.7%,#0f0 66.1%,#e4ff00)"></i><i style="background:linear-gradient(90deg,#005aff,#0ff 26.8%,#0f0 66.3%,#e2ff00)"></i><i style="background:linear-gradient(90deg,#005aff,#0ff 26.9%,#0f0 66.5%,#e0ff00)"></i><i style="background:linear-gradient(90deg,#005aff,#0ff 27.0%,#0f0 66.6%,#deff00)"></i><i style="background:linear-gradient(90deg,#005aff,#0ff 27.1%,#0f0 66.8%,#df0)"></i><i style="background:linear-gradient(90deg,#0059ff,#0ff 27.1%,#0f0 67.0%,#dbff00)"></i><i style="background:linear-gradient(90deg,#0059ff,#0ff 27.2%,#0f0 67.2%,#d9ff00)"></i><i style="background:linear-gradient(90deg,#0059ff,#0ff 27.3%,#0f0 67.4%,#d7ff00)"></i><i style="background:linear-gradient(90deg,#0059ff,#0ff 27.4%,#0f0 67.6%,#d6ff00)"></i><i style="background:linear-gradient(90deg,#0059ff,#0ff 27.5%,#0f0 67.7%,#d4ff00)"></i><i style="background:linear-gradient(90deg,#0059ff,#0ff 27.5%,#0f0 67.9%,#d2ff00)"></i><i style="background:linear-gradient(90deg,#0059ff,#0ff 27.6%,#0f0 68.1%,#d0ff00)"></i><i style="background:linear-gradient(90deg,#0059ff,#0ff 27.7%,#0f0 68.3%,#cfff00)"></i><i style="background:linear-gradient(90deg,#0059ff,#0ff 27.8%,#0f0 68.5%,#cdff00)"></i><i style="background:linear-gradient(90deg,#0059ff,#0ff 27.9%,#0f0 68.7%,#cbff00)"></i><i style="background:linear-gradient(90deg,#0059ff,#0ff 28.0%,#0f0 68.9%,#c9ff00)"></i><i style="background:linear-gradient(90deg,#0059ff,#0ff 28.0%,#0f0 69.1%,#c7ff00)"></i><i style="background:linear-gradient(90deg,#0059ff,#0ff 28.1%,#0f0 69.3%,#c6ff00)"></i><i style="background:linear-gradient(90deg,#0059ff,#0ff 28.2%,#0f0 69.5%,#c4ff00)"></i><i style="background:linear-gradient(90deg,#0059ff,#0ff 28.3%,#0f0 69.6%,#c2ff00)"></i><i style="background:linear-gradient(90deg,#0058ff,#0ff 28.4%,#0f0 69.8%,#c0ff00)"></i><i style="background:linear-gradient(90deg,#0058ff,#0ff 28.5%,#0f0 70.0%,#bfff00)"></i><i style="background:linear-gradient(90deg,#0058ff,#0ff 28.6%,#0f0 70.2%,#bdff00)"></i><i style="background:linear-gradient(90deg,#0058ff,#0ff 28.6%,#0f0 70.4%,#bf0)"></i><i style="background:linear-gradient(90deg,#0058ff,#0ff 28.7%,#0f0 70.6%,#b9ff00)"></i><i style="background:linear-gradient(90deg,#0058ff,#0ff 28.8%,#0f0 70.8%,#b8ff00)"></i><i style="background:linear-gradient(90deg,#0058ff,#0ff 28.9%,#0f0 71.0%,#b6ff00)"></i><i style="background:linear-gradient(90deg,#0058ff,#0ff 29.0%,#0f0 71.2%,#b4ff00)"></i><i style="background:linear-gradient(90deg,#0058ff,#0ff 29.1%,#0f0 71.4%,#b2ff00)"></i><i style="background:linear-gradient(90deg,#0058ff,#0ff 29.2%,#0f0 71.7%,#b1ff00)"></i><i style="background:linear-gradient(90deg,#0058ff,#0ff 29.3%,#0f0 71.9%,#afff00)"></i><i style="background:linear-gradient(90deg,#0058ff,#0ff 29.4%,#0f0 72.1%,#adff00)"></i><i style="background:linear-gradient(90deg,#0058ff,#0ff 29.4%,#0f0 72.3%,#abff00)"></i><i style="background:linear-gradient(90deg,#0058ff,#0ff 29.5%,#0f0 72.5%,#af0)"></i><i style="background:linear-gradient(90deg,#0058ff,#0ff 29.6%,#0f0 72.7%,#a8ff00)"></i><i style="background:linear-gradient(90deg,#0058ff,#0ff 29.7%,#0f0 72.9%,#a6ff00)"></i><i style="background:linear-gradient(90deg,#0057ff,#0ff 29.8%,#0f0 73.1%,#a4ff00)"></i><i style="background:linear-gradient(90deg,#0057ff,#0ff 29.9%,#0f0 73.3%,#a2ff00)"></i><i style="background:linear-gradient(90deg,#0057ff,#0ff 30.0%,#0f0 73.6%,#a1ff00)"></i><i style="background:linear-gradient(90deg,#0057ff,#0ff 30.1%,#0f0 73.8%,#9fff00)"></i><i style="background:linear-gradient(90deg,#0057ff,#0ff 30.2%,#0f0 74.0%,#9dff00)"></i><i style="background:linear-gradient(90deg,#0057ff,#0ff 30.3%,#0f0 74.2%,#9bff00)"></i><i style="background:linear-gradient(90deg,#0057ff,#0ff 30.4%,#0f0 74.4%,#9aff00)"></i><i style="background:linear-gradient(90deg,#0057ff,#0ff 30.5%,#0f0 74.6%,#98ff00)"></i><i style="background:linear-gradient(90deg,#0057ff,#0ff 30.6%,#0f0 74.9%,#96ff00)"></i><i style="background:linear-gradient(90deg,#0057ff,#0ff 30.7%,#0f0 75.1%,#94ff00)"></i><i style="background:linear-gradient(90deg,#0057ff,#0ff 30.8%,#0f0 75.3%,#93ff00)"></i><i style="background:linear-gradient(90deg,#0057ff,#0ff 30.9%,#0f0 75.5%,#91ff00)"></i><i style="background:linear-gradient(90deg,#0057ff,#0ff 31.0%,#0f0 75.8%,#8fff00)"></i><i style="background:linear-gradient(90deg,#0057ff,#0ff 31.1%,#0f0 76.0%,#8dff00)"></i><i style="background:linear-gradient(90deg,#0057ff,#0ff 31.2%,#0f0 76.2%,#8cff00)"></i><i style="background:linear-gradient(90deg,#0056ff,#0ff 31.3%,#0f0 76.5%,#8aff00)"></i><i style="background:linear-gradient(90deg,#0056ff,#0ff 31.4%,#0f0 76.7%,#8f0)"></i><i style="background:linear-gradient(90deg,#0056ff,#0ff 31.5%,#0f0 76.9%,#86ff00)"></i><i style="background:linear-gradient(90deg,#0056ff,#0ff 31.6%,#0f0 77.2%,#84ff00)"></i><i style="background:linear-gradient(90deg,#0056ff,#0ff 31.7%,#0f0 77.4%,#83ff00)"></i><i style="background:linear-gradient(90deg,#0056ff,#0ff 31.8%,#0f0 77.7%,#81ff00)"></i><i style="background:linear-gradient(90deg,#0056ff,#0ff 31.9%,#0f0 77.9%,#7fff00)"></i><i style="background:linear-gradient(90deg,#0056ff,#0ff 32.0%,#0f0 78.1%,#7dff00)"></i><i style="background:linear-gradient(90deg,#0056ff,#0ff 32.1%,#0f0 78.4%,#7cff00)"></i><i style="background:linear-gradient(90deg,#0056ff,#0ff 32.2%,#0f0 78.6%,#7aff00)"></i><i style="background:linear-gradient(90deg,#0056ff,#0ff 32.3%,#0f0 78.9%,#78ff00)"></i><i style="background:linear-gradient(90deg,#0056ff,#0ff 32.5%,#0f0 79.1%,#76ff00)"></i><i style="background:linear-gradient(90deg,#0056ff,#0ff 32.6%,#0f0 79.4%,#75ff00)"></i><i style="background:linear-gradient(90deg,#0056ff,#0ff 32.7%,#0f0 79.6%,#73ff00)"></i><i style="background:linear-gradient(90deg,#0056ff,#0ff 32.8%,#0f0 79.9%,#71ff00)"></i><i style="background:linear-gradient(90deg,#0056ff,#0ff 32.9%,#0f0 80.1%,#6fff00)"></i><i style="background:linear-gradient(90deg,#05f,#0ff 33.0%,#0f0 80.4%,#6eff00)"></i><i style="background:linear-gradient(90deg,#05f,#0ff 33.1%,#0f0 80.6%,#6cff00)"></i><i style="background:linear-gradient(90deg,#05f,#0ff 33.2%,#0f0 80.9%,#6aff00)"></i><i style="background:linear-gradient(90deg,#05f,#0ff 33.4%,#0f0 81.2%,#68ff00)"></i><i style="background:linear-gradient(90deg,#05f,#0ff 33.5%,#0f0 81.4%,#67ff00)"></i><i style="background:linear-gradient(90deg,#05f,#0ff 33.6%,#0f0 81.7%,#65ff00)"></i><i style="background:linear-gradient(90deg,#05f,#0ff 33.7%,#0f0 81.9%,#63ff00)"></i><i style="background:linear-gradient(90deg,#05f,#0ff 33.8%,#0f0 82.2%,#61ff00)"></i><i style="background:linear-gradient(90deg,#05f,#0ff 33.9%,#0f0 82.5%,#5fff00)"></i><i style="background:linear-gradient(90deg,#05f,#0ff 34.1%,#0f0 82.7%,#5eff00)"></i><i style="background:linear-gradient(90deg,#05f,#0ff 34.2%,#0f0 83.0%,#5cff00)"></i><i style="background:linear-gradient(90deg,#05f,#0ff 34.3%,#0f0 83.3%,#5aff00)"></i><i style="background:linear-gradient(90deg,#05f,#0ff 34.4%,#0f0 83.6%,#58ff00)"></i><i style="background:linear-gradient(90deg,#05f,#0ff 34.5%,#0f0 83.8%,#57ff00)"></i><i style="background:linear-gradient(90deg,#05f,#0ff 34.7%,#0f0 84.1%,#5f0)"></i><i style="background:linear-gradient(90deg,#05f,#0ff 34.8%,#0f0 84.4%,#53ff00)"></i><i style="background:linear-gradient(90deg,#0054ff,#0ff 34.9%,#0f0 84.7%,#51ff00)"></i><i style="background:linear-gradient(90deg,#0054ff,#0ff 35.0%,#0f0 85.0%,#50ff00)"></i><i style="background:linear-gradient(90deg,#0054ff,#0ff 35.2%,#0f0 85.3%,#4eff00)"></i><i style="background:linear-gradient(90deg,#0054ff,#0ff 35.3%,#0f0 85.5%,#4cff00)"></i><i style="background:linear-gradient(90deg,#0054ff,#0ff 35.4%,#0f0 85.8%,#4aff00)"></i><i style="background:linear-gradient(90deg,#0054ff,#0ff 35.5%,#0f0 86.1%,#49ff00)"></i><i style="background:linear-gradient(90deg,#0054ff,#0ff 35.7%,#0f0 86.4%,#47ff00)"></i><i style="background:linear-gradient(90deg,#0054ff,#0ff 35.8%,#0f0 86.7%,#45ff00)"></i><i style="background:linear-gradient(90deg,#0054ff,#0ff 35.9%,#0f0 87.0%,#43ff00)"></i><i style="background:linear-gradient(90deg,#0054ff,#0ff 36.1%,#0f0 87.3%,#42ff00)"></i><i style="background:linear-gradient(90deg,#0054ff,#0ff 36.2%,#0f0 87.6%,#40ff00)"></i><i style="background:linear-gradient(90deg,#0054ff,#0ff 36.3%,#0f0 87.9%,#3eff00)"></i><i style="background:linear-gradient(90deg,#0054ff,#0ff 36.5%,#0f0 88.2%,#3cff00)"></i><i style="background:linear-gradient(90deg,#0054ff,#0ff 36.6%,#0f0 88.5%,#3aff00)"></i><i style="background:linear-gradient(90deg,#0054ff,#0ff 36.7%,#0f0 88.8%,#39ff00)"></i><i style="background:linear-gradient(90deg,#0053ff,#0ff 36.9%,#0f0 89.1%,#37ff00)"></i><i style="background:linear-gradient(90deg,#0053ff,#0ff 37.0%,#0f0 89.5%,#35ff00)"></i><i style="background:linear-gradient(90deg,#0053ff,#0ff 37.1%,#0f0 89.8%,#3f0)"></i><i style="background:linear-gradient(90deg,#0053ff,#0ff 37.3%,#0f0 90.1%,#32ff00)"></i><i style="background:linear-gradient(90deg,#0053ff,#0ff 37.4%,#0f0 90.4%,#30ff00)"></i><i style="background:linear-gradient(90deg,#0053ff,#0ff 37.6%,#0f0 90.7%,#2eff00)"></i><i style="background:linear-gradient(90deg,#0053ff,#0ff 37.7%,#0f0 91.1%,#2cff00)"></i><i style="background:linear-gradient(90deg,#0053ff,#0ff 37.8%,#0f0 91.4%,#2bff00)"></i><i style="background:linear-gradient(90deg,#0053ff,#0ff 38.0%,#0f0 91.7%,#29ff00)"></i><i style="background:linear-gradient(90deg,#0053ff,#0ff 38.1%,#0f0 92.0%,#27ff00)"></i><i style="background:linear-gradient(90deg,#0053ff,#0ff 38.3%,#0f0 92.4%,#25ff00)"></i><i style="background:linear-gradient(90deg,#0053ff,#0ff 38.4%,#0f0 92.7%,#24ff00)"></i><i style="background:linear-gradient(90deg,#0053ff,#0ff 38.6%,#0f0 93.0%,#2f0)"></i><i style="background:linear-gradient(90deg,#0053ff,#0ff 38.7%,#0f0 93.4%,#20ff00)"></i><i style="background:linear-gradient(90deg,#0053ff,#0ff 38.9%,#0f0 93.7%,#1eff00)"></i><i style="background:linear-gradient(90deg,#0053ff,#0ff 39.0%,#0f0 94.1%,#1cff00)"></i><i style="background:linear-gradient(90deg,#0052ff,#0ff 39.2%,#0f0 94.4%,#1bff00)"></i><i style="background:linear-gradient(90deg,#0052ff,#0ff 39.3%,#0f0 94.8%,#19ff00)"></i><i style="background:linear-gradient(90deg,#0052ff,#0ff 39.5%,#0f0 95.1%,#17ff00)"></i><i style="background:linear-gradient(90deg,#0052ff,#0ff 39.6%,#0f0 95.5%,#15ff00)"></i><i style="background:linear-gradient(90deg,#0052ff,#0ff 39.8%,#0f0 95.8%,#14ff00)"></i><i style="background:linear-gradient(90deg,#0052ff,#0ff 40.0%,#0f0 96.2%,#12ff00)"></i><i style="background:linear-gradient(90deg,#0052ff,#0ff 40.1%,#0f0 96.6%,#10ff00)"></i><i style="background:linear-gradient(90deg,#0052ff,#0ff 40.3%,#0f0 96.9%,#0eff00)"></i><i style="background:linear-gradient(90deg,#0052ff,#0ff 40.4%,#0f0 97.3%,#0dff00)"></i><i style="background:linear-gradient(90deg,#0052ff,#0ff 40.6%,#0f0 97.7%,#0bff00)"></i><i style="background:linear-gradient(90deg,#0052ff,#0ff 40.8%,#0f0 98.0%,#09ff00)"></i><i style="background:linear-gradient(90deg,#0052ff,#0ff 40.9%,#0f0 98.4%,#07ff00)"></i><i style="background:linear-gradient(90deg,#0052ff,#0ff 41.1%,#0f0 98.8%,#06ff00)"></i><i style="background:linear-gradient(90deg,#0052ff,#0ff 41.3%,#0f0 99.2%,#04ff00)"></i><i style="background:linear-gradient(90deg,#0052ff,#0ff 41.4%,#0f0 99.6%,#02ff00)"></i><i style="background:linear-gradient(90deg,#0051ff,#0ff 41.6%,#0f0 99.9%,#0f0)"></i><i style="background:linear-gradient(90deg,#0051ff,#0ff 41.8%,#00ff01)"></i><i style="background:linear-gradient(90deg,#0051ff,#0ff 42.0%,#00ff03)"></i><i style="background:linear-gradient(90deg,#0051ff,#0ff 42.1%,#00ff05)"></i><i style="background:linear-gradient(90deg,#0051ff,#0ff 42.3%,#00ff07)"></i></div>
<svg width="550" height="511" viewBox="0 0 550 511">
<path d="M93.5 35.5H288.5V230.5" fill="none" stroke="#6b6b6b" stroke-opacity=".45"/><path d="M93.5 35.5V230.5H288.5" fill="none" stroke="#808080" stroke-opacity=".85"/><path d="M93.5 231V236M88 35.5H93M132.5 231V236M88 74.5H93M171.5 231V236M88 113.5H93M210.5 231V236M88 152.5H93M249.5 231V236M88 191.5H93M288.5 231V236M88 230.5H93" stroke="#8a8a8a" fill="none"/>
<path d="M93.0 62.6L94.6 61.3L96.3 60.0L97.9 58.7L99.5 57.3L101.2 55.9L102.7 54.6L104.4 53.1L106.0 51.7L107.7 50.1L109.2 48.7L110.9 47.1L112.6 45.5L114.2 43.9L115.9 42.2L117.5 40.6L119.1 38.9L120.6 37.3L122.1 35.7L122.8 35.0" stroke="#101010" stroke-opacity=".75" stroke-width=".8" fill="none"/>
<path d="M93.0 100.5L94.9 99.4L96.9 98.1L98.9 96.9L100.6 95.8L102.5 94.6L104.4 93.3L106.4 91.9L108.4 90.6L110.0 89.4L111.6 88.2L113.3 87.0L114.9 85.8L116.5 84.5L118.2 83.3L119.8 82.0L121.4 80.7L123.1 79.3L124.7 77.9L126.3 76.5L127.9 75.2L129.6 73.7L131.2 72.2L132.9 70.7L134.5 69.1L136.0 67.7L137.4 66.3L138.9 64.7L140.4 63.3L141.8 61.8L143.3 60.2L144.8 58.5L146.2 57.0L147.7 55.3L149.2 53.6L150.5 52.1L151.8 50.5L153.1 48.9L154.4 47.3L155.7 45.6L157.0 43.9L158.3 42.2L159.6 40.6L160.8 38.9L161.9 37.3L163.2 35.4L163.5 35.0" stroke="#101010" stroke-opacity=".75" stroke-width=".8" fill="none"/>
<path d="M93.0 138.4L95.0 137.6L96.9 136.8L98.8 135.9L100.8 135.1L102.8 134.2L104.7 133.3L106.7 132.4L108.7 131.5L110.6 130.5L112.6 129.5L114.6 128.5L116.5 127.5L118.5 126.5L120.3 125.5L122.1 124.5L124.0 123.4L126.0 122.3L127.7 121.2L129.6 120.1L131.4 119.0L133.2 117.9L135.0 116.7L136.8 115.5L138.7 114.2L140.7 112.8L142.3 111.6L144.0 110.4L145.6 109.2L147.2 108.0L148.9 106.7L150.5 105.4L152.1 104.1L153.8 102.7L155.4 101.3L157.0 99.9L158.7 98.4L160.3 96.9L161.8 95.4L163.5 93.8L165.1 92.2L166.8 90.5L168.3 88.9L169.8 87.3L171.3 85.6L172.7 84.1L174.2 82.4L175.6 80.7L176.9 79.1L178.2 77.5L179.5 75.8L180.8 74.2L182.0 72.6L183.2 70.9L184.4 69.3L185.8 67.3L187.1 65.4L188.2 63.7L189.4 62.0L190.5 60.2L191.7 58.4L192.8 56.6L193.9 54.6L195.1 52.6L196.2 50.7L197.2 48.9L198.2 47.1L199.2 45.3L200.1 43.4L201.1 41.5L202.1 39.6L203.0 37.6L204.0 35.7L204.3 35.0" stroke="#101010" stroke-opacity=".75" stroke-width=".8" fill="none"/>
<path d="M93.0 176.3L95.0 175.8L96.9 175.4L98.9 175.0L100.8 174.5L102.8 174.0L104.8 173.6L106.7 173.1L108.7 172.6L110.6 172.1L112.6 171.6L114.6 171.0L116.5 170.5L118.5 169.9L120.4 169.4L122.4 168.8L124.4 168.2L126.3 167.6L128.3 167.0L130.2 166.3L132.2 165.7L134.2 165.0L136.1 164.3L138.1 163.6L140.0 162.9L142.0 162.2L143.9 161.4L145.9 160.6L147.9 159.8L149.8 159.0L151.8 158.2L153.8 157.3L155.7 156.4L157.5 155.5L159.6 154.6L161.5 153.6L163.4 152.6L165.3 151.6L167.1 150.6L168.8 149.7L170.7 148.6L172.7 147.4L174.7 146.2L176.4 145.1L178.3 143.9L180.2 142.5L182.2 141.2L183.8 140.0L185.4 138.7L187.1 137.5L188.7 136.2L190.3 134.8L192.0 133.5L193.6 132.0L195.2 130.5L196.8 129.1L198.5 127.4L200.1 125.8L201.7 124.2L203.1 122.7L204.6 120.9L206.0 119.3L207.3 117.8L208.6 116.2L209.9 114.5L211.3 112.8L212.5 111.1L213.7 109.5L214.8 107.8L216.1 105.9L217.4 103.9L218.7 102.0L219.7 100.2L220.8 98.4L221.9 96.4L223.0 94.5L224.0 92.7L224.9 90.9L225.9 88.9L226.9 86.9L227.8 85.0L228.8 83.0L229.6 81.1L230.5 79.1L231.4 77.1L232.2 75.2L233.0 73.2L233.7 71.3L234.5 69.3L235.2 67.3L235.9 65.4L236.6 63.4L237.3 61.5L238.0 59.5L238.6 57.5L239.3 55.6L239.9 53.6L240.5 51.7L241.1 49.7L241.6 47.7L242.2 45.8L242.7 43.8L243.3 41.9L243.8 39.9L244.3 37.9L244.8 36.0L245.1 35.0" stroke="#101010" stroke-opacity=".75" stroke-width=".8" fill="none"/>
<path d="M93.0 214.1L95.3 214.1L97.6 214.0L99.9 214.0L102.1 213.9L104.4 213.8L106.7 213.8L109.0 213.7L111.3 213.6L113.6 213.6L115.9 213.5L118.2 213.4L120.4 213.3L122.7 213.2L125.0 213.2L127.3 213.1L129.6 213.0L131.9 212.9L134.2 212.8L136.4 212.7L138.7 212.6L141.0 212.5L143.3 212.4L145.6 212.3L147.9 212.2L150.2 212.1L152.5 212.0L154.7 211.8L156.8 211.7L159.0 211.6L161.3 211.5L163.6 211.3L165.8 211.2L168.1 211.0L170.4 210.9L172.7 210.7L175.0 210.5L177.3 210.4L179.6 210.2L181.9 210.0L184.1 209.8L186.4 209.6L188.7 209.4L191.0 209.2L193.3 208.9L195.6 208.7L197.9 208.4L200.1 208.1L202.4 207.9L204.7 207.6L207.0 207.2L209.3 206.9L211.6 206.6L213.9 206.2L216.2 205.8L218.4 205.4L220.7 204.9L222.7 204.5L224.6 204.1L226.6 203.6L228.6 203.1L230.5 202.6L232.5 202.0L234.4 201.4L236.4 200.8L238.4 200.1L240.3 199.4L242.3 198.6L244.2 197.7L246.2 196.8L248.2 195.8L250.0 194.7L251.8 193.7L253.5 192.5L255.3 191.1L256.9 189.8L258.6 188.3L260.3 186.7L261.8 184.9L263.2 183.3L264.4 181.7L265.7 179.7L266.8 178.0L267.9 176.1L268.9 174.2L269.8 172.2L270.7 170.2L271.5 168.3L272.2 166.3L272.9 164.4L273.5 162.4L274.1 160.4L274.7 158.5L275.2 156.5L275.7 154.6L276.1 152.6L276.6 150.6L277.0 148.7L277.4 146.4L277.9 144.1L278.2 142.0L278.6 139.9L278.9 137.6L279.3 135.3L279.6 133.0L279.9 130.7L280.2 128.5L280.4 126.5L280.7 124.2L280.9 121.9L281.2 119.7L281.4 117.6L281.6 115.4L281.8 113.1L282.0 110.8L282.2 108.5L282.4 106.2L282.6 103.9L282.7 101.6L282.9 99.4L283.0 97.1L283.2 94.8L283.3 92.5L283.5 90.2L283.6 87.9L283.8 85.6L283.9 83.3L284.0 81.1L284.1 78.8L284.2 76.5L284.4 74.2L284.5 71.9L284.6 69.6L284.7 67.3L284.8 65.1L284.9 62.8L285.0 60.5L285.0 58.2L285.1 55.9L285.2 53.6L285.3 51.3L285.4 49.0L285.5 46.8L285.5 44.5L285.6 42.2L285.7 39.9L285.8 37.6L285.8 35.3L285.8 35.0" stroke="#101010" stroke-opacity=".75" stroke-width=".8" fill="none"/>
<circle cx="289.0" cy="35.0" r="1.8" fill="#c00000" stroke="#700" stroke-width=".8"/>
<circle cx="93.0" cy="231.0" r="1.8" fill="#c00000" stroke="#700" stroke-width=".8"/>
<path d="M340.5 36.5H535.5V230.5" fill="none" stroke="#6b6b6b" stroke-opacity=".45"/><path d="M340.5 36.5V230.5H535.5" fill="none" stroke="#808080" stroke-opacity=".85"/><path d="M340.5 231V236M335 36.5H340M379.5 231V236M335 74.5H340M418.5 231V236M335 113.5H340M457.5 231V236M335 152.5H340M496.5 231V236M335 191.5H340M535.5 231V236M335 230.5H340" stroke="#8a8a8a" fill="none"/>
<path d="M449.6 231.0L451.7 230.8L454.0 230.6L456.3 230.4L458.6 230.2L460.9 230.0L463.2 229.9L465.2 229.7L467.4 229.5L469.7 229.4L472.0 229.2L474.3 229.1L476.5 228.9L478.8 228.8L481.1 228.6L483.4 228.5L485.4 228.4L487.7 228.3L489.9 228.2L492.2 228.0L494.5 227.9L496.8 227.8L499.1 227.7L501.4 227.6L503.7 227.5L505.9 227.4L508.2 227.3L510.5 227.2L512.8 227.1L515.1 227.0L517.4 226.9L519.7 226.8L522.0 226.7L524.2 226.7L526.5 226.6L528.8 226.5L531.1 226.4L533.4 226.4L535.7 226.3L536.0 226.3" stroke="#101010" stroke-opacity=".75" stroke-width=".8" fill="none"/>
<path d="M364.0 36.0L364.4 38.3L364.8 40.5L365.2 42.5L365.7 44.8L366.1 47.0L366.6 49.3L367.1 51.6L367.6 53.9L368.1 56.1L368.6 58.1L369.0 60.1L369.5 62.0L370.0 64.0L370.5 65.9L371.0 67.8L371.5 69.8L372.1 71.8L372.6 73.7L373.2 75.6L373.8 77.6L374.4 79.6L375.0 81.5L375.6 83.4L376.3 85.4L376.9 87.3L377.6 89.3L378.3 91.3L379.1 93.2L379.8 95.1L380.6 97.1L381.4 99.1L382.3 101.0L383.1 102.9L384.0 104.9L384.9 106.8L385.9 108.8L386.9 110.8L387.9 112.7L389.0 114.6L390.0 116.4L391.0 118.2L392.2 120.2L393.4 122.1L394.6 123.8L395.8 125.7L397.2 127.6L398.4 129.3L399.6 130.9L400.9 132.5L402.3 134.1L403.7 135.8L405.0 137.3L406.6 139.0L408.2 140.7L409.6 142.1L411.1 143.6L412.8 145.2L414.3 146.5L416.1 148.0L417.7 149.4L419.4 150.7L421.0 151.9L422.6 153.1L424.3 154.3L426.2 155.6L428.2 156.9L430.2 158.1L432.1 159.3L434.1 160.5L436.0 161.6L438.0 162.6L440.0 163.7L441.9 164.6L443.9 165.6L445.8 166.5L447.8 167.4L449.8 168.3L451.7 169.1L453.6 169.9L455.6 170.7L457.6 171.5L459.5 172.2L461.5 172.9L463.5 173.6L465.4 174.3L467.4 174.9L469.4 175.5L471.3 176.2L473.3 176.8L475.2 177.3L477.2 177.9L479.2 178.5L481.1 179.0L483.1 179.5L485.0 180.0L487.0 180.5L489.0 181.0L490.9 181.5L492.9 182.0L494.8 182.4L496.8 182.8L498.8 183.3L500.7 183.7L502.7 184.1L504.6 184.5L506.9 185.0L509.2 185.4L511.4 185.8L513.5 186.2L515.7 186.6L518.0 187.0L520.3 187.4L522.4 187.8L524.6 188.1L526.9 188.5L529.1 188.9L531.4 189.2L533.7 189.6L536.0 189.9L536.0 189.9" stroke="#101010" stroke-opacity=".75" stroke-width=".8" fill="none"/>
<path d="M404.7 36.0L405.4 38.0L406.3 39.9L407.1 41.8L407.9 43.8L408.8 45.8L409.7 47.7L410.6 49.6L411.5 51.6L412.5 53.5L413.4 55.5L414.4 57.5L415.5 59.4L416.4 61.2L417.4 63.0L418.4 64.8L419.4 66.5L420.6 68.5L421.7 70.3L422.7 72.1L424.0 74.0L425.2 76.0L426.5 77.9L427.9 79.9L429.2 81.7L430.4 83.5L431.6 85.1L432.9 86.7L434.1 88.3L435.4 89.9L436.7 91.5L438.0 93.1L439.3 94.6L440.7 96.1L442.1 97.7L443.6 99.3L445.2 101.0L446.8 102.6L448.4 104.2L450.1 105.9L451.7 107.4L453.2 108.8L455.0 110.4L456.6 111.7L458.1 113.0L459.7 114.3L461.3 115.6L462.9 116.9L464.6 118.2L466.4 119.5L468.1 120.8L469.7 121.9L471.4 123.1L473.3 124.4L475.2 125.7L477.2 126.9L479.2 128.2L481.0 129.3L482.8 130.3L484.7 131.5L486.6 132.5L488.4 133.5L490.2 134.5L492.0 135.5L493.9 136.4L495.8 137.4L497.8 138.4L499.7 139.3L501.7 140.2L503.7 141.1L505.5 142.0L507.6 142.9L509.5 143.7L511.5 144.5L513.5 145.3L515.4 146.1L517.4 146.9L519.3 147.7L521.3 148.4L523.2 149.1L525.2 149.8L527.2 150.5L529.1 151.2L531.1 151.9L533.1 152.5L535.0 153.2L536.0 153.5" stroke="#101010" stroke-opacity=".75" stroke-width=".8" fill="none"/>
<path d="M445.3 36.0L446.5 37.9L447.6 39.6L448.8 41.4L450.0 43.2L451.3 45.1L452.7 47.0L454.0 48.9L455.2 50.6L456.4 52.3L457.7 53.9L458.9 55.5L460.2 57.1L461.5 58.7L462.8 60.3L464.1 61.9L465.4 63.4L467.0 65.2L468.4 66.8L470.0 68.5L471.5 70.1L473.0 71.7L474.6 73.4L476.2 75.0L477.9 76.6L479.5 78.2L480.9 79.6L482.4 80.9L484.1 82.4L485.6 83.8L487.3 85.3L489.0 86.6L490.6 88.0L492.2 89.3L493.8 90.6L495.5 91.9L497.1 93.2L498.8 94.4L500.4 95.6L502.0 96.8L503.7 97.9L505.6 99.3L507.6 100.6L509.5 102.0L511.5 103.2L513.5 104.5L515.2 105.5L517.1 106.7L518.9 107.8L521.0 109.0L522.8 110.1L524.9 111.3L526.9 112.3L528.7 113.4L530.5 114.3L532.4 115.3L534.3 116.3L536.0 117.1" stroke="#101010" stroke-opacity=".75" stroke-width=".8" fill="none"/>
<path d="M486.0 36.0L487.3 37.6L488.8 39.2L490.2 40.9L491.6 42.4L493.2 44.1L494.7 45.8L496.1 47.3L497.8 49.0L499.4 50.6L501.0 52.2L502.7 53.8L504.3 55.4L505.8 56.8L507.6 58.4L509.2 59.9L510.8 61.3L512.5 62.8L514.1 64.2L515.7 65.5L517.4 66.9L519.0 68.2L520.6 69.5L522.3 70.8L523.9 72.1L525.5 73.3L527.2 74.5L528.8 75.7L530.4 76.9L532.1 78.0L533.8 79.2L535.7 80.5L536.0 80.7" stroke="#101010" stroke-opacity=".75" stroke-width=".8" fill="none"/>
<path d="M526.6 36.0L528.2 37.4L529.8 38.9L531.4 40.4L533.1 41.8L534.6 43.2L536.0 44.4" stroke="#101010" stroke-opacity=".75" stroke-width=".8" fill="none"/>
<circle cx="340.0" cy="36.0" r="1.8" fill="#c00000" stroke="#700" stroke-width=".8"/>
<circle cx="536.0" cy="231.0" r="1.8" fill="#c00000" stroke="#700" stroke-width=".8"/>
<path d="M92.5 262.5H287.5V457.5" fill="none" stroke="#6b6b6b" stroke-opacity=".45"/><path d="M92.5 262.5V457.5H287.5" fill="none" stroke="#808080" stroke-opacity=".85"/><path d="M92.5 458V463M87 262.5H92M131.5 458V463M87 301.5H92M170.5 458V463M87 340.5H92M209.5 458V463M87 379.5H92M248.5 458V463M87 418.5H92M287.5 458V463M87 457.5H92" stroke="#8a8a8a" fill="none"/>
<path d="M92.0 311.3L92.9 309.4L93.8 307.4L94.8 305.4L95.7 303.5L96.6 301.5L97.5 299.6L98.4 297.6L99.2 295.8L100.1 293.7L101.0 291.7L101.8 289.8L102.7 287.8L103.5 285.8L104.3 283.9L105.2 281.9L106.0 280.0L106.8 278.0L107.6 276.0L108.4 274.1L109.2 272.1L110.0 270.2L110.7 268.2L111.5 266.2L112.3 264.3L113.0 262.3L113.2 262.0" stroke="#101010" stroke-opacity=".75" stroke-width=".8" fill="none"/>
<path d="M92.0 405.3L93.2 403.4L94.3 401.6L95.3 399.9L96.5 397.9L97.6 396.1L98.6 394.3L99.7 392.3L100.8 390.4L102.0 388.4L103.1 386.5L104.1 384.6L105.1 382.8L106.0 381.0L107.0 379.1L108.0 377.3L109.0 375.4L110.0 373.5L110.9 371.6L111.9 369.6L112.8 367.8L113.8 365.9L114.8 363.9L115.7 362.0L116.6 360.0L117.6 358.0L118.5 356.1L119.4 354.1L120.3 352.2L121.2 350.2L122.1 348.3L122.9 346.3L123.8 344.3L124.7 342.4L125.5 340.4L126.3 338.6L127.2 336.5L128.0 334.5L128.8 332.6L129.6 330.6L130.4 328.6L131.2 326.7L132.0 324.7L132.8 322.8L133.5 320.8L134.3 318.8L135.0 316.9L135.8 315.0L136.5 313.0L137.3 311.0L138.0 309.0L138.7 307.1L139.4 305.1L140.1 303.2L140.8 301.2L141.5 299.2L142.2 297.3L142.9 295.3L143.5 293.4L144.2 291.4L144.9 289.4L145.5 287.5L146.2 285.5L146.8 283.6L147.5 281.6L148.1 279.6L148.7 277.7L149.3 275.7L149.9 273.8L150.6 271.8L151.2 269.8L151.8 267.9L152.4 265.9L153.0 264.0L153.5 262.0L153.5 262.0" stroke="#101010" stroke-opacity=".75" stroke-width=".8" fill="none"/>
<path d="M122.6 458.0L123.9 456.0L125.0 454.2L126.1 452.4L127.2 450.5L128.3 448.7L129.3 446.9L130.5 444.9L131.5 443.1L132.5 441.3L133.5 439.5L134.5 437.7L135.4 435.9L136.4 434.2L137.4 432.2L138.4 430.3L139.4 428.4L140.3 426.6L141.3 424.7L142.2 422.7L143.2 420.8L144.1 418.8L145.1 416.8L146.0 414.9L146.9 412.9L147.8 411.0L148.7 409.0L149.5 407.1L150.4 405.1L151.3 403.1L152.1 401.2L152.9 399.2L153.7 397.3L154.6 395.3L155.4 393.3L156.2 391.4L157.0 389.4L157.7 387.4L158.5 385.5L159.3 383.5L160.0 381.6L160.8 379.6L161.5 377.6L162.2 375.7L162.9 373.7L163.7 371.8L164.4 369.8L165.1 367.8L165.7 365.9L166.4 363.9L167.1 362.0L167.8 360.0L168.4 358.0L169.1 356.1L169.7 354.1L170.4 352.2L171.0 350.2L171.6 348.2L172.2 346.3L172.8 344.3L173.5 342.4L174.1 340.4L174.6 338.4L175.2 336.5L175.8 334.5L176.4 332.6L177.0 330.6L177.5 328.6L178.1 326.7L178.6 324.7L179.2 322.8L179.7 320.8L180.3 318.8L180.8 316.9L181.3 314.9L181.9 313.0L182.4 311.0L182.9 309.0L183.4 307.1L183.9 305.1L184.4 303.2L184.9 301.2L185.4 299.2L185.9 297.3L186.4 295.3L186.8 293.4L187.3 291.4L187.8 289.4L188.2 287.5L188.7 285.5L189.2 283.6L189.6 281.6L190.1 279.6L190.5 277.7L190.9 275.7L191.4 273.8L191.8 271.8L192.2 269.8L192.7 267.9L193.1 265.9L193.5 264.0L193.9 262.0L193.9 262.0" stroke="#101010" stroke-opacity=".75" stroke-width=".8" fill="none"/>
<path d="M192.3 458.0L193.0 456.0L193.7 454.1L194.4 452.1L195.1 450.2L195.8 448.2L196.5 446.2L197.1 444.3L197.8 442.3L198.4 440.4L199.1 438.4L199.7 436.4L200.3 434.5L200.9 432.5L201.5 430.6L202.1 428.6L202.7 426.6L203.3 424.7L203.8 422.7L204.4 420.8L205.0 418.8L205.5 416.8L206.0 414.9L206.6 412.9L207.1 411.0L207.6 409.0L208.1 407.0L208.7 405.1L209.2 403.1L209.7 401.2L210.1 399.2L210.6 397.2L211.1 395.3L211.6 393.3L212.1 391.4L212.5 389.4L213.0 387.4L213.4 385.5L213.9 383.5L214.3 381.6L214.8 379.6L215.2 377.6L215.6 375.7L216.0 373.7L216.5 371.8L216.9 369.8L217.3 367.8L217.7 365.9L218.1 363.9L218.6 361.6L219.0 359.3L219.5 357.1L219.9 354.8L220.3 352.5L220.8 350.2L221.2 347.9L221.6 345.6L222.0 343.6L222.4 341.4L222.8 339.1L223.2 336.8L223.6 334.5L224.0 332.5L224.4 330.3L224.7 328.0L225.1 325.7L225.5 323.4L225.9 321.1L226.3 318.8L226.6 316.8L226.9 314.7L227.2 312.6L227.6 310.5L227.9 308.4L228.2 306.4L228.5 304.1L228.9 301.9L229.2 299.9L229.5 297.6L229.8 295.3L230.2 293.0L230.5 290.7L230.8 288.5L231.1 286.2L231.4 283.9L231.8 281.6L232.1 279.3L232.4 277.0L232.7 274.7L233.0 272.5L233.3 270.2L233.6 267.9L233.8 265.6L234.1 263.6L234.3 262.0" stroke="#101010" stroke-opacity=".75" stroke-width=".8" fill="none"/>
<path d="M262.0 458.0L262.2 455.8L262.4 453.8L262.7 451.5L262.9 449.2L263.1 446.9L263.4 444.6L263.6 442.3L263.8 440.1L264.0 438.1L264.2 435.8L264.5 433.5L264.7 431.2L264.9 428.9L265.1 426.6L265.3 424.4L265.5 422.1L265.7 419.8L265.9 417.5L266.1 415.2L266.3 412.9L266.5 410.6L266.6 408.3L266.8 406.1L267.0 403.8L267.2 401.5L267.4 399.2L267.5 396.9L267.7 394.6L267.9 392.3L268.0 390.1L268.2 387.8L268.4 385.5L268.5 383.2L268.7 380.9L268.8 378.6L269.0 376.3L269.1 374.0L269.3 371.8L269.4 369.5L269.6 367.2L269.7 364.9L269.8 362.6L270.0 360.3L270.1 358.0L270.3 355.8L270.4 353.5L270.5 351.2L270.7 348.9L270.8 346.6L270.9 344.3L271.0 342.0L271.2 339.7L271.3 337.5L271.4 335.2L271.5 332.9L271.6 330.6L271.8 328.3L271.9 326.0L272.0 323.8L272.1 321.8L272.2 319.5L272.3 317.2L272.4 314.9L272.5 312.6L272.6 310.3L272.8 308.1L272.9 305.8L273.0 303.5L273.1 301.2L273.2 298.9L273.3 296.6L273.4 294.3L273.5 292.1L273.6 289.8L273.7 287.5L273.8 285.2L273.9 282.9L273.9 280.6L274.0 278.3L274.1 276.0L274.2 273.8L274.3 271.5L274.4 269.2L274.5 266.9L274.6 264.6L274.7 262.3L274.7 262.0" stroke="#101010" stroke-opacity=".75" stroke-width=".8" fill="none"/>
<circle cx="92.0" cy="262.0" r="1.8" fill="#c00000" stroke="#700" stroke-width=".8"/>
<circle cx="288.0" cy="458.0" r="1.8" fill="#c00000" stroke="#700" stroke-width=".8"/>
<path d="M337.5 262.5H532.5V457.5" fill="none" stroke="#6b6b6b" stroke-opacity=".45"/><path d="M337.5 262.5V457.5H532.5" fill="none" stroke="#808080" stroke-opacity=".85"/><path d="M337.5 458V463M332 262.5H337M376.5 458V463M332 301.5H337M415.5 458V463M332 340.5H337M454.5 458V463M332 379.5H337M493.5 458V463M332 418.5H337M532.5 458V463M332 457.5H337" stroke="#8a8a8a" fill="none"/>
<path d="M357.1 262.0L357.2 264.3L357.4 266.6L357.5 268.9L357.7 271.1L357.8 273.4L357.9 275.7L358.1 278.0L358.2 280.0L358.4 282.3L358.5 284.5L358.7 286.8L358.8 289.1L359.0 291.4L359.2 293.7L359.3 296.0L359.5 298.3L359.7 300.5L359.8 302.8L360.0 305.1L360.2 307.4L360.3 309.7L360.5 312.0L360.7 314.3L360.9 316.6L361.1 318.8L361.2 321.1L361.4 323.4L361.6 325.7L361.8 328.0L362.0 330.3L362.2 332.6L362.4 334.8L362.6 337.1L362.8 339.4L363.0 341.7L363.2 344.0L363.4 346.3L363.6 348.6L363.8 350.9L364.1 353.1L364.3 355.4L364.5 357.7L364.7 360.0L365.0 362.3L365.2 364.6L365.4 366.9L365.7 369.1L365.9 371.4L366.1 373.7L366.4 376.0L366.6 378.3L366.9 380.6L367.1 382.9L367.4 385.0L367.6 387.1L367.9 389.4L368.2 391.7L368.4 394.0L368.7 396.0L369.0 398.2L369.2 400.5L369.5 402.8L369.8 405.1L370.1 407.4L370.4 409.7L370.7 411.9L371.0 414.2L371.4 416.5L371.7 418.8L372.0 421.1L372.3 423.4L372.7 425.7L373.0 427.9L373.4 430.2L373.7 432.5L374.1 434.8L374.4 437.1L374.8 439.4L375.2 441.7L375.5 443.9L375.9 445.9L376.3 448.2L376.7 450.5L377.1 452.8L377.5 455.1L377.9 457.3L378.0 458.0" stroke="#101010" stroke-opacity=".75" stroke-width=".8" fill="none"/>
<path d="M397.2 262.0L397.6 264.3L397.9 266.6L398.3 268.9L398.6 271.1L399.0 273.4L399.3 275.7L399.7 278.0L400.0 280.1L400.4 282.1L400.7 284.1L401.0 286.1L401.4 288.1L401.8 290.4L402.1 292.7L402.5 295.0L402.9 297.3L403.3 299.5L403.7 301.5L404.1 303.8L404.5 306.1L404.9 308.4L405.3 310.7L405.8 313.0L406.2 315.2L406.6 317.5L407.1 319.8L407.5 322.1L408.0 324.4L408.4 326.7L408.9 328.8L409.3 330.9L409.7 332.9L410.1 334.8L410.5 336.8L411.0 338.8L411.4 340.7L411.8 342.7L412.2 344.6L412.7 346.6L413.1 348.6L413.6 350.5L414.0 352.5L414.5 354.4L414.9 356.4L415.4 358.4L415.9 360.3L416.3 362.3L416.8 364.2L417.3 366.2L417.8 368.2L418.3 370.1L418.8 372.1L419.3 374.0L419.8 376.0L420.3 378.0L420.8 379.9L421.4 381.9L421.9 383.8L422.5 385.8L423.0 387.8L423.6 389.7L424.1 391.7L424.7 393.6L425.3 395.6L425.9 397.6L426.4 399.5L427.0 401.5L427.6 403.4L428.3 405.4L428.9 407.4L429.5 409.3L430.1 411.3L430.8 413.2L431.4 415.2L432.1 417.2L432.8 419.1L433.4 421.1L434.1 423.0L434.8 425.0L435.5 427.0L436.3 428.9L437.0 430.8L437.7 432.8L438.5 434.8L439.2 436.8L440.0 438.7L440.7 440.7L441.5 442.6L442.3 444.6L443.1 446.6L444.0 448.5L444.8 450.5L445.6 452.4L446.5 454.4L447.4 456.4L448.1 458.0" stroke="#101010" stroke-opacity=".75" stroke-width=".8" fill="none"/>
<path d="M437.4 262.0L437.9 264.0L438.3 265.9L438.8 267.9L439.3 269.8L439.8 271.8L440.3 273.8L440.8 275.7L441.2 277.7L441.7 279.6L442.2 281.6L442.8 283.6L443.3 285.5L443.8 287.5L444.3 289.4L444.8 291.4L445.4 293.4L445.9 295.3L446.4 297.3L447.0 299.2L447.5 301.2L448.1 303.2L448.6 305.1L449.2 307.1L449.8 309.0L450.4 311.0L450.9 313.0L451.5 314.9L452.1 316.9L452.7 318.8L453.3 320.8L453.9 322.8L454.6 324.7L455.2 326.7L455.8 328.6L456.5 330.6L457.1 332.6L457.7 334.5L458.4 336.5L459.1 338.4L459.7 340.4L460.4 342.4L461.1 344.3L461.8 346.3L462.5 348.2L463.2 350.2L463.9 352.2L464.6 354.1L465.4 356.1L466.1 358.0L466.8 360.0L467.6 362.0L468.3 363.9L469.1 365.9L469.9 367.8L470.7 369.8L471.5 371.8L472.2 373.6L473.1 375.7L473.9 377.6L474.7 379.6L475.6 381.6L476.4 383.5L477.3 385.5L478.1 387.3L479.0 389.4L479.9 391.4L480.8 393.3L481.7 395.2L482.7 397.2L483.6 399.2L484.6 401.2L485.5 403.1L486.5 405.1L487.5 407.0L488.5 409.0L489.5 411.0L490.5 412.9L491.5 414.9L492.5 416.7L493.5 418.5L494.5 420.3L495.4 422.1L496.4 423.8L497.5 425.7L498.6 427.6L499.7 429.5L500.9 431.5L502.0 433.4L503.0 435.1L504.2 437.1L505.5 439.1L506.5 440.8L507.7 442.6L508.8 444.4L510.1 446.2L511.4 448.2L512.7 450.2L514.0 452.1L515.4 454.1L516.5 455.7L517.7 457.3L518.1 458.0" stroke="#101010" stroke-opacity=".75" stroke-width=".8" fill="none"/>
<path d="M477.6 262.0L478.2 264.0L478.9 265.9L479.5 267.9L480.2 269.8L480.8 271.8L481.5 273.8L482.2 275.7L482.8 277.7L483.5 279.6L484.2 281.6L484.9 283.6L485.6 285.5L486.3 287.4L487.0 289.4L487.7 291.4L488.5 293.4L489.2 295.3L489.9 297.3L490.7 299.2L491.4 301.2L492.2 303.2L493.0 305.1L493.7 307.1L494.5 309.0L495.3 311.0L496.1 312.9L496.9 314.9L497.7 316.8L498.6 318.8L499.4 320.7L500.2 322.8L501.1 324.7L501.9 326.7L502.8 328.6L503.7 330.6L504.6 332.6L505.4 334.5L506.3 336.5L507.2 338.3L508.2 340.4L509.1 342.4L510.0 344.3L511.0 346.3L511.9 348.2L512.9 350.2L513.9 352.2L514.9 354.1L515.9 356.1L516.9 358.0L517.9 360.0L518.9 362.0L519.9 363.9L520.9 365.7L521.9 367.5L522.9 369.3L523.9 371.1L524.8 372.8L525.9 374.7L527.0 376.7L528.1 378.5L529.3 380.6L530.4 382.4L531.4 384.2L532.6 386.1L533.0 386.8" stroke="#101010" stroke-opacity=".75" stroke-width=".8" fill="none"/>
<circle cx="533.0" cy="262.0" r="1.8" fill="#c00000" stroke="#700" stroke-width=".8"/>
<circle cx="337.0" cy="458.0" r="1.8" fill="#c00000" stroke="#700" stroke-width=".8"/>
</svg>
<div class="t tx" style="left:78.5px;top:238px">50</div><div class="t ty" style="left:55.7px;top:28.5px">60</div><div class="t tx" style="left:117.5px;top:238px">60</div><div class="t ty" style="left:55.7px;top:67.5px">58</div><div class="t tx" style="left:156.5px;top:238px">70</div><div class="t ty" style="left:55.7px;top:106.5px">56</div><div class="t tx" style="left:195.5px;top:238px">80</div><div class="t ty" style="left:55.7px;top:145.5px">54</div><div class="t tx" style="left:234.5px;top:238px">90</div><div class="t ty" style="left:55.7px;top:184.5px">52</div><div class="t tx" style="left:273.5px;top:238px">100</div><div class="t ty" style="left:55.7px;top:223.5px">50</div>
<div class="l" style="left:97.4px;top:37.1px">80</div><div class="l" style="left:123.9px;top:56.2px">82</div><div class="l" style="left:150.9px;top:82.3px">84</div><div class="l" style="left:187.7px;top:114.9px">86</div><div class="l" style="left:249.0px;top:174.6px">88</div>
<div class="t tx" style="left:325.5px;top:238px">50</div><div class="t ty" style="left:302.7px;top:29.5px">60</div><div class="t tx" style="left:364.5px;top:238px">60</div><div class="t ty" style="left:302.7px;top:68.3px">58</div><div class="t tx" style="left:403.5px;top:238px">70</div><div class="t ty" style="left:302.7px;top:107.1px">56</div><div class="t tx" style="left:442.5px;top:238px">80</div><div class="t ty" style="left:302.7px;top:145.9px">54</div><div class="t tx" style="left:481.5px;top:238px">90</div><div class="t ty" style="left:302.7px;top:184.7px">52</div><div class="t tx" style="left:520.5px;top:238px">100</div><div class="t ty" style="left:302.7px;top:223.5px">50</div>
<div class="l" style="left:480.5px;top:212.7px">60</div><div class="l" style="left:405.1px;top:130.6px">62</div><div class="l" style="left:445.3px;top:93.8px">64</div><div class="l" style="left:475.5px;top:66.8px">66</div><div class="l" style="left:499.9px;top:43.5px">68</div>
<div class="t tx" style="left:77.5px;top:466px">50</div><div class="t ty" style="left:54.7px;top:255.5px">60</div><div class="t tx" style="left:116.5px;top:466px">60</div><div class="t ty" style="left:54.7px;top:294.5px">58</div><div class="t tx" style="left:155.5px;top:466px">70</div><div class="t ty" style="left:54.7px;top:333.5px">56</div><div class="t tx" style="left:194.5px;top:466px">80</div><div class="t ty" style="left:54.7px;top:372.5px">54</div><div class="t tx" style="left:233.5px;top:466px">90</div><div class="t ty" style="left:54.7px;top:411.5px">52</div><div class="t tx" style="left:272.5px;top:466px">100</div><div class="t ty" style="left:54.7px;top:450.5px">50</div>
<div class="l" style="left:95.0px;top:272.1px">65</div><div class="l" style="left:118.3px;top:323.1px">70</div><div class="l" style="left:157.0px;top:351.7px">75</div><div class="l" style="left:209.1px;top:349.9px">80</div><div class="l" style="left:260.8px;top:345.1px">85</div>
<div class="t tx" style="left:322.5px;top:466px">50</div><div class="t ty" style="left:299.7px;top:255.5px">60</div><div class="t tx" style="left:361.5px;top:466px">60</div><div class="t ty" style="left:299.7px;top:294.5px">58</div><div class="t tx" style="left:400.5px;top:466px">70</div><div class="t ty" style="left:299.7px;top:333.5px">56</div><div class="t tx" style="left:439.5px;top:466px">80</div><div class="t ty" style="left:299.7px;top:372.5px">54</div><div class="t tx" style="left:478.5px;top:466px">90</div><div class="t ty" style="left:299.7px;top:411.5px">52</div><div class="t tx" style="left:517.5px;top:466px">100</div><div class="t ty" style="left:299.7px;top:450.5px">50</div>
<div class="l" style="left:356.8px;top:346.3px">65</div><div class="l" style="left:408.3px;top:349.2px">70</div><div class="l" style="left:461.0px;top:351.7px">75</div><div class="l" style="left:493.8px;top:312.4px">80</div>
<div class="h" id="h1" style="left:150.5px;top:2.5px;letter-spacing:.3px">Methanol</div>
<div class="h" id="h2" style="left:414px;top:2.5px;letter-spacing:-.2px">Ethanol</div>
<div class="h" id="h3" style="left:5.5px;top:110px;letter-spacing:-.7px">PVP K25</div>
<div class="h" id="h4" style="left:12.5px;top:378.5px;letter-spacing:-.5px">HPMC</div>
<div class="h" id="h5" style="left:243.5px;top:486.5px;letter-spacing:.1px">Solvent Volume (mL)</div>
<div class="h" id="h6" style="left:37px;top:343px;letter-spacing:.085px;transform-origin:0 0;transform:rotate(-90deg)">Inlet Air Temperature (°C)</div>
</body></html>
